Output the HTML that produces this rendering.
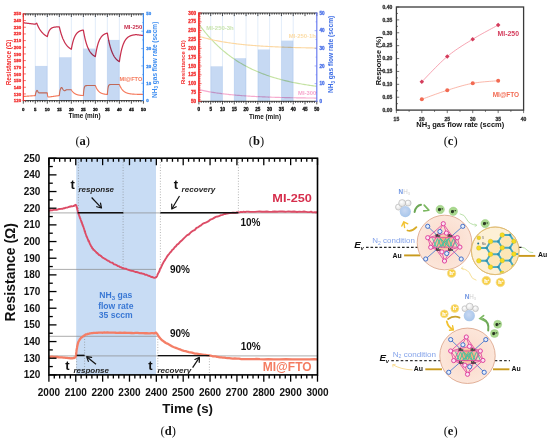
<!DOCTYPE html>
<html><head><meta charset="utf-8"><title>Figure</title>
<style>html,body{margin:0;padding:0;background:#fff;}svg{display:block;}</style></head>
<body><svg width="550" height="442" viewBox="0 0 550 442">
<rect width="550" height="442" fill="#fff"/>
<line x1="35.31" y1="13.9" x2="35.31" y2="100.6" stroke="#d6e4f6" stroke-width="0.7" />
<line x1="47.32" y1="13.9" x2="47.32" y2="100.6" stroke="#d6e4f6" stroke-width="0.7" />
<line x1="59.33" y1="13.9" x2="59.33" y2="100.6" stroke="#d6e4f6" stroke-width="0.7" />
<line x1="71.34" y1="13.9" x2="71.34" y2="100.6" stroke="#d6e4f6" stroke-width="0.7" />
<line x1="83.35" y1="13.9" x2="83.35" y2="100.6" stroke="#d6e4f6" stroke-width="0.7" />
<line x1="95.36" y1="13.9" x2="95.36" y2="100.6" stroke="#d6e4f6" stroke-width="0.7" />
<line x1="107.37" y1="13.9" x2="107.37" y2="100.6" stroke="#d6e4f6" stroke-width="0.7" />
<line x1="119.38" y1="13.9" x2="119.38" y2="100.6" stroke="#d6e4f6" stroke-width="0.7" />
<path d="M23.3 22.77 L23.42 22.78 L23.54 22.8 L23.66 22.81 L23.78 22.83 L23.9 22.84 L24.02 22.86 L24.14 22.87 L24.26 22.89 L24.38 22.9 L24.5 22.92 L24.62 22.93 L24.74 22.95 L24.86 22.96 L24.98 22.98 L25.1 22.99 L25.22 23 L25.34 23.02 L25.46 23.03 L25.58 23.05 L25.7 23.06 L25.82 23.08 L25.94 23.09 L26.06 23.11 L26.18 23.12 L26.3 23.14 L26.42 23.15 L26.54 23.17 L26.66 23.18 L26.78 23.2 L26.9 23.21 L27.02 23.22 L27.14 23.24 L27.26 23.25 L27.38 23.27 L27.5 23.28 L27.62 23.3 L27.74 23.31 L27.86 23.33 L27.98 23.34 L28.1 23.36 L28.22 23.37 L28.34 23.39 L28.46 23.4 L28.58 23.42 L28.7 23.43 L28.82 23.45 L28.94 23.46 L29.06 23.47 L29.18 23.49 L29.3 23.5 L29.43 23.52 L29.55 23.53 L29.67 23.55 L29.79 23.56 L29.91 23.58 L30.03 23.59 L30.15 23.61 L30.27 23.62 L30.39 23.64 L30.51 23.65 L30.63 23.67 L30.75 23.68 L30.87 23.69 L30.99 23.71 L31.11 23.72 L31.23 23.74 L31.35 23.75 L31.47 23.77 L31.59 23.78 L31.71 23.8 L31.83 23.81 L31.95 23.83 L32.07 23.84 L32.19 23.86 L32.31 23.87 L32.43 23.89 L32.55 23.9 L32.67 23.91 L32.79 23.93 L32.91 23.94 L33.03 23.96 L33.15 23.97 L33.27 23.99 L33.39 24 L33.51 24.02 L33.63 24.03 L33.75 24.05 L33.87 24.06 L33.99 24.08 L34.11 24.09 L34.23 24.11 L34.35 24.12 L34.47 24.13 L34.59 24.15 L34.71 24.16 L34.83 24.18 L34.95 24.19 L35.07 24.21 L35.19 24.22 L35.31 24.24 L35.43 24.11 L35.55 23.98 L35.67 23.85 L35.79 23.74 L35.91 23.63 L36.03 23.53 L36.15 23.44 L36.27 23.37 L36.39 23.31 L36.51 23.27 L36.63 23.25 L36.75 23.24 L36.87 23.53 L36.99 23.83 L37.11 24.12 L37.23 24.4 L37.35 24.67 L37.47 24.95 L37.59 25.22 L37.71 25.48 L37.83 25.74 L37.95 25.99 L38.07 26.24 L38.19 26.48 L38.31 26.72 L38.43 26.96 L38.55 27.19 L38.67 27.42 L38.79 27.65 L38.91 27.86 L39.03 28.08 L39.15 28.29 L39.27 28.5 L39.39 28.71 L39.51 28.91 L39.63 29.11 L39.75 29.3 L39.87 29.49 L39.99 29.68 L40.11 29.86 L40.23 30.04 L40.35 30.22 L40.47 30.39 L40.59 30.57 L40.71 30.73 L40.83 30.9 L40.95 31.06 L41.07 31.22 L41.19 31.38 L41.31 31.53 L41.44 31.68 L41.56 31.83 L41.68 31.98 L41.8 32.12 L41.92 32.26 L42.04 32.4 L42.16 32.54 L42.28 32.67 L42.4 32.8 L42.52 32.93 L42.64 33.05 L42.76 33.18 L42.88 33.3 L43 33.42 L43.12 33.54 L43.24 33.65 L43.36 33.77 L43.48 33.88 L43.6 33.99 L43.72 34.1 L43.84 34.2 L43.96 34.31 L44.08 34.41 L44.2 34.51 L44.32 34.61 L44.44 34.7 L44.56 34.8 L44.68 34.89 L44.8 34.98 L44.92 35.07 L45.04 35.16 L45.16 35.25 L45.28 35.33 L45.4 35.42 L45.52 35.5 L45.64 35.58 L45.76 35.66 L45.88 35.74 L46 35.82 L46.12 35.89 L46.24 35.97 L46.36 36.04 L46.48 36.11 L46.6 36.18 L46.72 36.25 L46.84 36.32 L46.96 36.38 L47.08 36.45 L47.2 36.51 L47.32 36.58 L47.44 36.05 L47.56 35.55 L47.68 35.07 L47.8 34.63 L47.92 34.2 L48.04 33.8 L48.16 33.43 L48.28 33.07 L48.4 32.73 L48.52 32.41 L48.64 32.11 L48.76 31.82 L48.88 31.55 L49 31.29 L49.12 31.05 L49.24 30.82 L49.36 30.6 L49.48 30.4 L49.6 30.2 L49.72 30.02 L49.84 29.84 L49.96 29.68 L50.08 29.52 L50.2 29.38 L50.32 29.24 L50.44 29.11 L50.56 28.98 L50.68 28.86 L50.8 28.75 L50.92 28.65 L51.04 28.55 L51.16 28.45 L51.28 28.36 L51.4 28.28 L51.52 28.2 L51.64 28.12 L51.76 28.05 L51.88 27.98 L52 27.92 L52.12 27.86 L52.24 27.8 L52.36 27.75 L52.48 27.7 L52.6 27.65 L52.72 27.6 L52.84 27.56 L52.96 27.52 L53.08 27.48 L53.2 27.44 L53.33 27.41 L53.45 27.38 L53.57 27.34 L53.69 27.31 L53.81 27.29 L53.93 27.26 L54.05 27.24 L54.17 27.21 L54.29 27.19 L54.41 27.17 L54.53 27.15 L54.65 27.13 L54.77 27.11 L54.89 27.1 L55.01 27.08 L55.13 27.06 L55.25 27.05 L55.37 27.04 L55.49 27.02 L55.61 27.01 L55.73 27 L55.85 26.99 L55.97 26.98 L56.09 26.97 L56.21 26.96 L56.33 26.95 L56.45 26.94 L56.57 26.94 L56.69 26.93 L56.81 26.92 L56.93 26.92 L57.05 26.91 L57.17 26.9 L57.29 26.9 L57.41 26.89 L57.53 26.89 L57.65 26.88 L57.77 26.88 L57.89 26.87 L58.01 26.87 L58.13 26.87 L58.25 26.86 L58.37 26.86 L58.49 26.86 L58.61 26.85 L58.73 26.85 L58.85 26.85 L58.97 26.85 L59.09 26.84 L59.21 26.84 L59.33 26.84 L59.45 27.37 L59.57 27.88 L59.69 28.39 L59.81 28.88 L59.93 29.37 L60.05 29.85 L60.17 30.31 L60.29 30.77 L60.41 31.21 L60.53 31.65 L60.65 32.08 L60.77 32.5 L60.89 32.91 L61.01 33.31 L61.13 33.71 L61.25 34.09 L61.37 34.47 L61.49 34.84 L61.61 35.21 L61.73 35.56 L61.85 35.91 L61.97 36.25 L62.09 36.58 L62.21 36.91 L62.33 37.23 L62.45 37.54 L62.57 37.85 L62.69 38.15 L62.81 38.45 L62.93 38.73 L63.05 39.02 L63.17 39.29 L63.29 39.56 L63.41 39.83 L63.53 40.09 L63.65 40.34 L63.77 40.59 L63.89 40.84 L64.01 41.08 L64.13 41.31 L64.25 41.54 L64.37 41.76 L64.49 41.98 L64.61 42.2 L64.73 42.41 L64.85 42.62 L64.97 42.82 L65.09 43.02 L65.21 43.21 L65.33 43.4 L65.46 43.59 L65.58 43.77 L65.7 43.95 L65.82 44.12 L65.94 44.3 L66.06 44.46 L66.18 44.63 L66.3 44.79 L66.42 44.95 L66.54 45.1 L66.66 45.25 L66.78 45.4 L66.9 45.54 L67.02 45.69 L67.14 45.83 L67.26 45.96 L67.38 46.1 L67.5 46.23 L67.62 46.35 L67.74 46.48 L67.86 46.6 L67.98 46.72 L68.1 46.84 L68.22 46.96 L68.34 47.07 L68.46 47.18 L68.58 47.29 L68.7 47.39 L68.82 47.5 L68.94 47.6 L69.06 47.7 L69.18 47.8 L69.3 47.89 L69.42 47.99 L69.54 48.08 L69.66 48.17 L69.78 48.26 L69.9 48.34 L70.02 48.43 L70.14 48.51 L70.26 48.59 L70.38 48.67 L70.5 48.75 L70.62 48.82 L70.74 48.9 L70.86 48.97 L70.98 49.04 L71.1 49.11 L71.22 49.18 L71.34 49.25 L71.46 48.55 L71.58 47.88 L71.7 47.24 L71.82 46.62 L71.94 46.01 L72.06 45.43 L72.18 44.88 L72.3 44.34 L72.42 43.81 L72.54 43.31 L72.66 42.83 L72.78 42.36 L72.9 41.91 L73.02 41.47 L73.14 41.05 L73.26 40.64 L73.38 40.25 L73.5 39.88 L73.62 39.51 L73.74 39.16 L73.86 38.82 L73.98 38.49 L74.1 38.18 L74.22 37.87 L74.34 37.58 L74.46 37.29 L74.58 37.02 L74.7 36.75 L74.82 36.5 L74.94 36.25 L75.06 36.02 L75.18 35.79 L75.3 35.57 L75.42 35.35 L75.54 35.15 L75.66 34.95 L75.78 34.76 L75.9 34.57 L76.02 34.39 L76.14 34.22 L76.26 34.05 L76.38 33.89 L76.5 33.74 L76.62 33.59 L76.74 33.45 L76.86 33.31 L76.98 33.17 L77.1 33.04 L77.22 32.92 L77.34 32.8 L77.47 32.68 L77.59 32.57 L77.71 32.46 L77.83 32.36 L77.95 32.26 L78.07 32.16 L78.19 32.06 L78.31 31.97 L78.43 31.89 L78.55 31.8 L78.67 31.72 L78.79 31.64 L78.91 31.57 L79.03 31.49 L79.15 31.42 L79.27 31.36 L79.39 31.29 L79.51 31.23 L79.63 31.17 L79.75 31.11 L79.87 31.05 L79.99 30.99 L80.11 30.94 L80.23 30.89 L80.35 30.84 L80.47 30.79 L80.59 30.75 L80.71 30.7 L80.83 30.66 L80.95 30.62 L81.07 30.58 L81.19 30.54 L81.31 30.5 L81.43 30.47 L81.55 30.43 L81.67 30.4 L81.79 30.37 L81.91 30.34 L82.03 30.31 L82.15 30.28 L82.27 30.25 L82.39 30.22 L82.51 30.2 L82.63 30.17 L82.75 30.15 L82.87 30.12 L82.99 30.1 L83.11 30.08 L83.23 30.06 L83.35 30.04 L83.47 30.75 L83.59 31.45 L83.71 32.13 L83.83 32.79 L83.95 33.44 L84.07 34.07 L84.19 34.68 L84.31 35.28 L84.43 35.87 L84.55 36.44 L84.67 36.99 L84.79 37.53 L84.91 38.06 L85.03 38.58 L85.15 39.08 L85.27 39.57 L85.39 40.05 L85.51 40.52 L85.63 40.97 L85.75 41.42 L85.87 41.85 L85.99 42.27 L86.11 42.68 L86.23 43.09 L86.35 43.48 L86.47 43.86 L86.59 44.23 L86.71 44.6 L86.83 44.95 L86.95 45.3 L87.07 45.63 L87.19 45.96 L87.31 46.28 L87.43 46.6 L87.55 46.9 L87.67 47.2 L87.79 47.49 L87.91 47.77 L88.03 48.05 L88.15 48.32 L88.27 48.58 L88.39 48.84 L88.51 49.09 L88.63 49.33 L88.75 49.57 L88.87 49.8 L88.99 50.03 L89.11 50.25 L89.23 50.46 L89.36 50.67 L89.48 50.88 L89.6 51.08 L89.72 51.27 L89.84 51.46 L89.96 51.65 L90.08 51.83 L90.2 52 L90.32 52.17 L90.44 52.34 L90.56 52.5 L90.68 52.66 L90.8 52.82 L90.92 52.97 L91.04 53.12 L91.16 53.26 L91.28 53.4 L91.4 53.54 L91.52 53.67 L91.64 53.8 L91.76 53.93 L91.88 54.06 L92 54.18 L92.12 54.29 L92.24 54.41 L92.36 54.52 L92.48 54.63 L92.6 54.74 L92.72 54.84 L92.84 54.94 L92.96 55.04 L93.08 55.14 L93.2 55.23 L93.32 55.33 L93.44 55.42 L93.56 55.5 L93.68 55.59 L93.8 55.67 L93.92 55.75 L94.04 55.83 L94.16 55.91 L94.28 55.98 L94.4 56.06 L94.52 56.13 L94.64 56.2 L94.76 56.27 L94.88 56.33 L95 56.4 L95.12 56.46 L95.24 56.52 L95.36 56.58 L95.48 55.78 L95.6 55.01 L95.72 54.27 L95.84 53.54 L95.96 52.85 L96.08 52.17 L96.2 51.52 L96.32 50.88 L96.44 50.27 L96.56 49.68 L96.68 49.11 L96.8 48.56 L96.92 48.02 L97.04 47.5 L97.16 47 L97.28 46.52 L97.4 46.05 L97.52 45.6 L97.64 45.16 L97.76 44.74 L97.88 44.33 L98 43.93 L98.12 43.55 L98.24 43.18 L98.36 42.82 L98.48 42.47 L98.6 42.14 L98.72 41.81 L98.84 41.5 L98.96 41.19 L99.08 40.9 L99.2 40.62 L99.32 40.34 L99.44 40.08 L99.56 39.82 L99.68 39.57 L99.8 39.33 L99.92 39.1 L100.04 38.87 L100.16 38.66 L100.28 38.45 L100.4 38.24 L100.52 38.05 L100.64 37.85 L100.76 37.67 L100.88 37.49 L101 37.32 L101.12 37.15 L101.24 36.99 L101.37 36.84 L101.49 36.69 L101.61 36.54 L101.73 36.4 L101.85 36.26 L101.97 36.13 L102.09 36 L102.21 35.88 L102.33 35.76 L102.45 35.65 L102.57 35.53 L102.69 35.43 L102.81 35.32 L102.93 35.22 L103.05 35.12 L103.17 35.03 L103.29 34.94 L103.41 34.85 L103.53 34.76 L103.65 34.68 L103.77 34.6 L103.89 34.52 L104.01 34.45 L104.13 34.37 L104.25 34.3 L104.37 34.24 L104.49 34.17 L104.61 34.11 L104.73 34.05 L104.85 33.99 L104.97 33.93 L105.09 33.87 L105.21 33.82 L105.33 33.77 L105.45 33.72 L105.57 33.67 L105.69 33.62 L105.81 33.58 L105.93 33.53 L106.05 33.49 L106.17 33.45 L106.29 33.41 L106.41 33.37 L106.53 33.34 L106.65 33.3 L106.77 33.26 L106.89 33.23 L107.01 33.2 L107.13 33.17 L107.25 33.14 L107.37 33.11 L107.49 33.85 L107.61 34.57 L107.73 35.28 L107.85 35.96 L107.97 36.64 L108.09 37.29 L108.21 37.94 L108.33 38.56 L108.45 39.17 L108.57 39.77 L108.69 40.35 L108.81 40.92 L108.93 41.48 L109.05 42.02 L109.17 42.55 L109.29 43.07 L109.41 43.58 L109.53 44.07 L109.65 44.55 L109.77 45.02 L109.89 45.48 L110.01 45.93 L110.13 46.37 L110.25 46.8 L110.37 47.22 L110.49 47.62 L110.61 48.02 L110.73 48.41 L110.85 48.79 L110.97 49.16 L111.09 49.52 L111.21 49.88 L111.33 50.22 L111.45 50.56 L111.57 50.89 L111.69 51.21 L111.81 51.53 L111.93 51.83 L112.05 52.13 L112.17 52.42 L112.29 52.71 L112.41 52.99 L112.53 53.26 L112.65 53.53 L112.77 53.79 L112.89 54.04 L113.01 54.29 L113.13 54.53 L113.25 54.77 L113.38 55 L113.5 55.22 L113.62 55.44 L113.74 55.66 L113.86 55.86 L113.98 56.07 L114.1 56.27 L114.22 56.46 L114.34 56.65 L114.46 56.84 L114.58 57.02 L114.7 57.2 L114.82 57.37 L114.94 57.54 L115.06 57.71 L115.18 57.87 L115.3 58.03 L115.42 58.18 L115.54 58.33 L115.66 58.48 L115.78 58.62 L115.9 58.76 L116.02 58.9 L116.14 59.03 L116.26 59.16 L116.38 59.29 L116.5 59.41 L116.62 59.53 L116.74 59.65 L116.86 59.77 L116.98 59.88 L117.1 59.99 L117.22 60.1 L117.34 60.2 L117.46 60.3 L117.58 60.4 L117.7 60.5 L117.82 60.6 L117.94 60.69 L118.06 60.78 L118.18 60.87 L118.3 60.96 L118.42 61.04 L118.54 61.12 L118.66 61.21 L118.78 61.28 L118.9 61.36 L119.02 61.44 L119.14 61.51 L119.26 61.58 L119.38 61.65 L119.5 60.81 L119.62 59.99 L119.74 59.2 L119.86 58.44 L119.98 57.69 L120.1 56.97 L120.22 56.28 L120.34 55.6 L120.46 54.95 L120.58 54.31 L120.7 53.69 L120.82 53.1 L120.94 52.52 L121.06 51.96 L121.18 51.42 L121.3 50.89 L121.42 50.38 L121.54 49.88 L121.66 49.4 L121.78 48.94 L121.9 48.49 L122.02 48.05 L122.14 47.63 L122.26 47.22 L122.38 46.82 L122.5 46.44 L122.62 46.06 L122.74 45.7 L122.86 45.35 L122.98 45.01 L123.1 44.68 L123.22 44.36 L123.34 44.05 L123.46 43.75 L123.58 43.46 L123.7 43.18 L123.82 42.9 L123.94 42.64 L124.06 42.38 L124.18 42.13 L124.3 41.89 L124.42 41.66 L124.54 41.43 L124.66 41.21 L124.78 41 L124.9 40.79 L125.02 40.59 L125.14 40.4 L125.26 40.21 L125.38 40.03 L125.51 39.85 L125.63 39.68 L125.75 39.52 L125.87 39.36 L125.99 39.2 L126.11 39.05 L126.23 38.9 L126.35 38.76 L126.47 38.63 L126.59 38.49 L126.71 38.36 L126.83 38.24 L126.95 38.12 L127.07 38 L127.19 37.89 L127.31 37.77 L127.43 37.67 L127.55 37.56 L127.67 37.46 L127.79 37.37 L127.91 37.27 L128.03 37.18 L128.15 37.09 L128.27 37.01 L128.39 36.92 L128.51 36.84 L128.63 36.76 L128.75 36.69 L128.87 36.61 L128.99 36.54 L129.11 36.47 L129.23 36.41 L129.35 36.34 L129.47 36.28 L129.59 36.22 L129.71 36.16 L129.83 36.1 L129.95 36.05 L130.07 35.99 L130.19 35.94 L130.31 35.89 L130.43 35.84 L130.55 35.79 L130.67 35.75 L130.79 35.7 L130.91 35.66 L131.03 35.62 L131.15 35.58 L131.27 35.54 L131.39 35.5 L131.51 35.46 L131.63 35.43 L131.75 35.39 L131.87 35.36 L131.99 35.32 L132.11 35.29 L132.23 35.26 L132.35 35.23 L132.47 35.2 L132.59 35.18 L132.71 35.15 L132.83 35.12 L132.95 35.1 L133.07 35.07 L133.19 35.05 L133.31 35.03 L133.43 35 L133.55 34.98 L133.67 34.96 L133.79 34.94 L133.91 34.92 L134.03 34.9 L134.15 34.88 L134.27 34.86 L134.39 34.85 L134.51 34.83 L134.63 34.81 L134.75 34.8 L134.87 34.78 L134.99 34.77 L135.11 34.75 L135.23 34.74 L135.35 34.73 L135.47 34.71 L135.59 34.7 L135.71 34.69 L135.83 34.68 L135.95 34.66 L136.07 34.65 L136.19 34.64 L136.31 34.66 L136.43 34.67 L136.55 34.68 L136.67 34.7 L136.79 34.71 L136.91 34.73 L137.03 34.74 L137.15 34.76 L137.27 34.77 L137.4 34.79 L137.52 34.8 L137.64 34.81 L137.76 34.83 L137.88 34.84 L138 34.86 L138.12 34.87 L138.24 34.89 L138.36 34.9 L138.48 34.92 L138.6 34.93 L138.72 34.94 L138.84 34.96 L138.96 34.97 L139.08 34.99 L139.2 35 L139.32 35.02 L139.44 35.03 L139.56 35.05 L139.68 35.06 L139.8 35.07 L139.92 35.09 L140.04 35.1 L140.16 35.12 L140.28 35.13 L140.4 35.15 L140.52 35.16 L140.64 35.18 L140.76 35.19 L140.88 35.2 L141 35.22 L141.12 35.23 L141.24 35.25 L141.36 35.26 L141.48 35.28 L141.6 35.29 L141.72 35.31 L141.84 35.32 L141.96 35.33 L142.08 35.35 L142.2 35.36 L142.32 35.38 L142.44 35.39 L142.56 35.41 L142.68 35.42 L142.8 35.44 L142.92 35.45 L143.04 35.46 L143.16 35.48 L143.28 35.49 L143.4 35.51" stroke="#c8304e" stroke-width="1.25" fill="none" stroke-linejoin="round"/>
<path d="M23.3 96.47 L23.42 96.46 L23.54 96.45 L23.66 96.44 L23.78 96.43 L23.9 96.42 L24.02 96.41 L24.14 96.4 L24.26 96.4 L24.38 96.39 L24.5 96.38 L24.62 96.37 L24.74 96.36 L24.86 96.35 L24.98 96.34 L25.1 96.34 L25.22 96.33 L25.34 96.32 L25.46 96.31 L25.58 96.3 L25.7 96.29 L25.82 96.28 L25.94 96.27 L26.06 96.27 L26.18 96.26 L26.3 96.25 L26.42 96.24 L26.54 96.23 L26.66 96.22 L26.78 96.21 L26.9 96.2 L27.02 96.2 L27.14 96.19 L27.26 96.18 L27.38 96.17 L27.5 96.16 L27.62 96.15 L27.74 96.14 L27.86 96.14 L27.98 96.13 L28.1 96.12 L28.22 96.11 L28.34 96.1 L28.46 96.09 L28.58 96.08 L28.7 96.07 L28.82 96.07 L28.94 96.06 L29.06 96.05 L29.18 96.04 L29.3 96.03 L29.43 96.02 L29.55 96.01 L29.67 96.01 L29.79 96 L29.91 95.99 L30.03 95.98 L30.15 95.97 L30.27 95.96 L30.39 95.95 L30.51 95.94 L30.63 95.94 L30.75 95.93 L30.87 95.92 L30.99 95.91 L31.11 95.9 L31.23 95.89 L31.35 95.88 L31.47 95.88 L31.59 95.87 L31.71 95.86 L31.83 95.85 L31.95 95.84 L32.07 95.83 L32.19 95.82 L32.31 95.81 L32.43 95.81 L32.55 95.8 L32.67 95.79 L32.79 95.78 L32.91 95.77 L33.03 95.76 L33.15 95.75 L33.27 95.75 L33.39 95.74 L33.51 95.73 L33.63 95.72 L33.75 95.71 L33.87 95.7 L33.99 95.69 L34.11 95.68 L34.23 95.68 L34.35 95.67 L34.47 95.66 L34.59 95.65 L34.71 95.64 L34.83 95.63 L34.95 95.62 L35.07 95.62 L35.19 95.61 L35.31 95.6 L35.43 94.53 L35.55 93.87 L35.67 93.34 L35.79 92.9 L35.91 92.5 L36.03 92.14 L36.15 91.81 L36.27 91.49 L36.39 91.2 L36.51 90.95 L36.63 90.73 L36.75 90.57 L36.87 90.46 L36.99 90.42 L37.11 90.45 L37.23 90.53 L37.35 90.67 L37.47 90.86 L37.59 91.07 L37.71 91.31 L37.83 91.55 L37.95 91.78 L38.07 92 L38.19 92.19 L38.31 92.36 L38.43 92.5 L38.55 92.62 L38.67 92.71 L38.79 92.77 L38.91 92.82 L39.03 92.86 L39.15 92.88 L39.27 92.9 L39.39 92.91 L39.51 92.92 L39.63 92.92 L39.75 92.93 L39.87 92.93 L39.99 92.93 L40.11 92.93 L40.23 92.93 L40.35 92.93 L40.47 92.93 L40.59 92.93 L40.71 92.93 L40.83 92.93 L40.95 92.93 L41.07 92.93 L41.19 92.93 L41.31 92.93 L41.44 92.93 L41.56 92.93 L41.68 92.93 L41.8 92.93 L41.92 92.93 L42.04 92.93 L42.16 92.93 L42.28 92.93 L42.4 92.93 L42.52 92.93 L42.64 92.93 L42.76 92.93 L42.88 92.93 L43 92.93 L43.12 92.93 L43.24 92.93 L43.36 92.93 L43.48 92.93 L43.6 92.93 L43.72 92.93 L43.84 92.93 L43.96 92.93 L44.08 92.93 L44.2 92.93 L44.32 92.93 L44.44 92.93 L44.56 92.93 L44.68 92.93 L44.8 92.93 L44.92 92.93 L45.04 92.93 L45.16 92.93 L45.28 92.93 L45.4 92.93 L45.52 92.93 L45.64 92.93 L45.76 92.93 L45.88 92.93 L46 92.93 L46.12 92.93 L46.24 92.93 L46.36 92.93 L46.48 92.93 L46.6 92.93 L46.72 92.93 L46.84 92.93 L46.96 92.93 L47.08 92.93 L47.2 92.93 L47.32 92.93 L47.44 94.39 L47.56 95.35 L47.68 95.97 L47.8 96.38 L47.92 96.64 L48.04 96.81 L48.16 96.91 L48.28 96.97 L48.4 97.01 L48.52 97.02 L48.64 97.03 L48.76 97.03 L48.88 97.02 L49 97.01 L49.12 97 L49.24 96.98 L49.36 96.97 L49.48 96.95 L49.6 96.93 L49.72 96.92 L49.84 96.9 L49.96 96.88 L50.08 96.87 L50.2 96.85 L50.32 96.83 L50.44 96.81 L50.56 96.8 L50.68 96.78 L50.8 96.76 L50.92 96.75 L51.04 96.73 L51.16 96.71 L51.28 96.69 L51.4 96.68 L51.52 96.66 L51.64 96.64 L51.76 96.62 L51.88 96.61 L52 96.59 L52.12 96.57 L52.24 96.55 L52.36 96.54 L52.48 96.52 L52.6 96.5 L52.72 96.49 L52.84 96.47 L52.96 96.45 L53.08 96.43 L53.2 96.42 L53.33 96.4 L53.45 96.38 L53.57 96.36 L53.69 96.35 L53.81 96.33 L53.93 96.31 L54.05 96.29 L54.17 96.28 L54.29 96.26 L54.41 96.24 L54.53 96.22 L54.65 96.21 L54.77 96.19 L54.89 96.17 L55.01 96.16 L55.13 96.14 L55.25 96.12 L55.37 96.1 L55.49 96.09 L55.61 96.07 L55.73 96.05 L55.85 96.03 L55.97 96.02 L56.09 96 L56.21 95.98 L56.33 95.96 L56.45 95.95 L56.57 95.93 L56.69 95.91 L56.81 95.9 L56.93 95.88 L57.05 95.86 L57.17 95.84 L57.29 95.83 L57.41 95.81 L57.53 95.79 L57.65 95.77 L57.77 95.76 L57.89 95.74 L58.01 95.72 L58.13 95.7 L58.25 95.69 L58.37 95.67 L58.49 95.65 L58.61 95.64 L58.73 95.62 L58.85 95.6 L58.97 95.58 L59.09 95.57 L59.21 95.55 L59.33 95.53 L59.45 94.17 L59.57 93.11 L59.69 92.26 L59.81 91.56 L59.93 90.98 L60.05 90.49 L60.17 90.05 L60.29 89.66 L60.41 89.31 L60.53 88.98 L60.65 88.67 L60.77 88.39 L60.89 88.14 L61.01 87.92 L61.13 87.73 L61.25 87.59 L61.37 87.5 L61.49 87.46 L61.61 87.47 L61.73 87.53 L61.85 87.63 L61.97 87.77 L62.09 87.94 L62.21 88.13 L62.33 88.34 L62.45 88.55 L62.57 88.75 L62.69 88.95 L62.81 89.14 L62.93 89.32 L63.05 89.49 L63.17 89.64 L63.29 89.78 L63.41 89.92 L63.53 90.05 L63.65 90.17 L63.77 90.28 L63.89 90.38 L64.01 90.48 L64.13 90.56 L64.25 90.63 L64.37 90.68 L64.49 90.72 L64.61 90.73 L64.73 90.72 L64.85 90.69 L64.97 90.64 L65.09 90.58 L65.21 90.51 L65.33 90.43 L65.46 90.34 L65.58 90.26 L65.7 90.17 L65.82 90.1 L65.94 90.03 L66.06 89.97 L66.18 89.91 L66.3 89.87 L66.42 89.83 L66.54 89.81 L66.66 89.78 L66.78 89.77 L66.9 89.76 L67.02 89.75 L67.14 89.74 L67.26 89.74 L67.38 89.73 L67.5 89.73 L67.62 89.73 L67.74 89.73 L67.86 89.73 L67.98 89.73 L68.1 89.73 L68.22 89.73 L68.34 89.73 L68.46 89.73 L68.58 89.73 L68.7 89.73 L68.82 89.73 L68.94 89.73 L69.06 89.73 L69.18 89.73 L69.3 89.73 L69.42 89.73 L69.54 89.73 L69.66 89.73 L69.78 89.73 L69.9 89.73 L70.02 89.73 L70.14 89.73 L70.26 89.73 L70.38 89.73 L70.5 89.73 L70.62 89.73 L70.74 89.73 L70.86 89.73 L70.98 89.73 L71.1 89.73 L71.22 89.73 L71.34 89.73 L71.46 89.94 L71.58 90.14 L71.7 90.34 L71.82 90.53 L71.94 90.71 L72.06 90.89 L72.18 91.06 L72.3 91.22 L72.42 91.38 L72.54 91.53 L72.66 91.68 L72.78 91.82 L72.9 91.96 L73.02 92.09 L73.14 92.22 L73.26 92.34 L73.38 92.46 L73.5 92.58 L73.62 92.69 L73.74 92.79 L73.86 92.9 L73.98 93 L74.1 93.09 L74.22 93.18 L74.34 93.27 L74.46 93.36 L74.58 93.44 L74.7 93.52 L74.82 93.6 L74.94 93.68 L75.06 93.75 L75.18 93.82 L75.3 93.88 L75.42 93.95 L75.54 94.01 L75.66 94.07 L75.78 94.13 L75.9 94.19 L76.02 94.24 L76.14 94.29 L76.26 94.34 L76.38 94.39 L76.5 94.44 L76.62 94.48 L76.74 94.53 L76.86 94.57 L76.98 94.61 L77.1 94.65 L77.22 94.69 L77.34 94.73 L77.47 94.76 L77.59 94.79 L77.71 94.83 L77.83 94.86 L77.95 94.89 L78.07 94.92 L78.19 94.95 L78.31 94.98 L78.43 95 L78.55 95.03 L78.67 95.05 L78.79 95.08 L78.91 95.1 L79.03 95.12 L79.15 95.14 L79.27 95.16 L79.39 95.18 L79.51 95.2 L79.63 95.22 L79.75 95.24 L79.87 95.26 L79.99 95.27 L80.11 95.29 L80.23 95.3 L80.35 95.32 L80.47 95.33 L80.59 95.35 L80.71 95.36 L80.83 95.37 L80.95 95.39 L81.07 95.4 L81.19 95.41 L81.31 95.42 L81.43 95.43 L81.55 95.44 L81.67 95.45 L81.79 95.46 L81.91 95.47 L82.03 95.48 L82.15 95.49 L82.27 95.5 L82.39 95.51 L82.51 95.51 L82.63 95.52 L82.75 95.53 L82.87 95.54 L82.99 95.54 L83.11 95.55 L83.23 95.56 L83.35 95.56 L83.47 93.77 L83.59 92.28 L83.71 91.05 L83.83 90.05 L83.95 89.23 L84.07 88.56 L84.19 88.01 L84.31 87.56 L84.43 87.19 L84.55 86.89 L84.67 86.64 L84.79 86.44 L84.91 86.28 L85.03 86.14 L85.15 86.03 L85.27 85.94 L85.39 85.86 L85.51 85.8 L85.63 85.75 L85.75 85.71 L85.87 85.68 L85.99 85.65 L86.11 85.63 L86.23 85.61 L86.35 85.6 L86.47 85.58 L86.59 85.57 L86.71 85.56 L86.83 85.56 L86.95 85.55 L87.07 85.55 L87.19 85.54 L87.31 85.54 L87.43 85.54 L87.55 85.54 L87.67 85.54 L87.79 85.53 L87.91 85.53 L88.03 85.53 L88.15 85.53 L88.27 85.53 L88.39 85.53 L88.51 85.53 L88.63 85.53 L88.75 85.53 L88.87 85.53 L88.99 85.53 L89.11 85.53 L89.23 85.53 L89.36 85.53 L89.48 85.53 L89.6 85.53 L89.72 85.53 L89.84 85.53 L89.96 85.53 L90.08 85.53 L90.2 85.53 L90.32 85.53 L90.44 85.53 L90.56 85.53 L90.68 85.53 L90.8 85.53 L90.92 85.53 L91.04 85.53 L91.16 85.53 L91.28 85.53 L91.4 85.53 L91.52 85.53 L91.64 85.53 L91.76 85.53 L91.88 85.53 L92 85.53 L92.12 85.53 L92.24 85.53 L92.36 85.53 L92.48 85.53 L92.6 85.53 L92.72 85.53 L92.84 85.53 L92.96 85.53 L93.08 85.53 L93.2 85.53 L93.32 85.53 L93.44 85.53 L93.56 85.53 L93.68 85.53 L93.8 85.53 L93.92 85.53 L94.04 85.53 L94.16 85.53 L94.28 85.53 L94.4 85.53 L94.52 85.53 L94.64 85.53 L94.76 85.53 L94.88 85.53 L95 85.53 L95.12 85.53 L95.24 85.53 L95.36 85.53 L95.48 85.85 L95.6 86.16 L95.72 86.46 L95.84 86.75 L95.96 87.03 L96.08 87.3 L96.2 87.56 L96.32 87.81 L96.44 88.06 L96.56 88.29 L96.68 88.52 L96.8 88.74 L96.92 88.95 L97.04 89.15 L97.16 89.34 L97.28 89.53 L97.4 89.72 L97.52 89.89 L97.64 90.06 L97.76 90.23 L97.88 90.38 L98 90.54 L98.12 90.68 L98.24 90.83 L98.36 90.96 L98.48 91.09 L98.6 91.22 L98.72 91.35 L98.84 91.46 L98.96 91.58 L99.08 91.69 L99.2 91.8 L99.32 91.9 L99.44 92 L99.56 92.09 L99.68 92.19 L99.8 92.28 L99.92 92.36 L100.04 92.45 L100.16 92.53 L100.28 92.6 L100.4 92.68 L100.52 92.75 L100.64 92.82 L100.76 92.89 L100.88 92.95 L101 93.01 L101.12 93.07 L101.24 93.13 L101.37 93.19 L101.49 93.24 L101.61 93.29 L101.73 93.34 L101.85 93.39 L101.97 93.44 L102.09 93.49 L102.21 93.53 L102.33 93.57 L102.45 93.61 L102.57 93.65 L102.69 93.69 L102.81 93.73 L102.93 93.76 L103.05 93.8 L103.17 93.83 L103.29 93.86 L103.41 93.89 L103.53 93.92 L103.65 93.95 L103.77 93.98 L103.89 94 L104.01 94.03 L104.13 94.05 L104.25 94.08 L104.37 94.1 L104.49 94.12 L104.61 94.14 L104.73 94.16 L104.85 94.18 L104.97 94.2 L105.09 94.22 L105.21 94.24 L105.33 94.26 L105.45 94.27 L105.57 94.29 L105.69 94.3 L105.81 94.32 L105.93 94.33 L106.05 94.35 L106.17 94.36 L106.29 94.37 L106.41 94.39 L106.53 94.4 L106.65 94.41 L106.77 94.42 L106.89 94.43 L107.01 94.44 L107.13 94.45 L107.25 94.46 L107.37 94.47 L107.49 92.76 L107.61 91.26 L107.73 90.02 L107.85 89.02 L107.97 88.19 L108.09 87.51 L108.21 86.96 L108.33 86.51 L108.45 86.14 L108.57 85.83 L108.69 85.58 L108.81 85.38 L108.93 85.21 L109.05 85.08 L109.17 84.97 L109.29 84.87 L109.41 84.8 L109.53 84.74 L109.65 84.69 L109.77 84.65 L109.89 84.61 L110.01 84.58 L110.13 84.56 L110.25 84.54 L110.37 84.53 L110.49 84.52 L110.61 84.51 L110.73 84.5 L110.85 84.49 L110.97 84.49 L111.09 84.48 L111.21 84.48 L111.33 84.47 L111.45 84.47 L111.57 84.47 L111.69 84.47 L111.81 84.47 L111.93 84.47 L112.05 84.46 L112.17 84.46 L112.29 84.46 L112.41 84.46 L112.53 84.46 L112.65 84.46 L112.77 84.46 L112.89 84.46 L113.01 84.46 L113.13 84.46 L113.25 84.46 L113.38 84.46 L113.5 84.46 L113.62 84.46 L113.74 84.46 L113.86 84.46 L113.98 84.46 L114.1 84.46 L114.22 84.46 L114.34 84.46 L114.46 84.46 L114.58 84.46 L114.7 84.46 L114.82 84.46 L114.94 84.46 L115.06 84.46 L115.18 84.46 L115.3 84.46 L115.42 84.46 L115.54 84.46 L115.66 84.46 L115.78 84.46 L115.9 84.46 L116.02 84.46 L116.14 84.46 L116.26 84.46 L116.38 84.46 L116.5 84.46 L116.62 84.46 L116.74 84.46 L116.86 84.46 L116.98 84.46 L117.1 84.46 L117.22 84.46 L117.34 84.46 L117.46 84.46 L117.58 84.46 L117.7 84.46 L117.82 84.46 L117.94 84.46 L118.06 84.46 L118.18 84.46 L118.3 84.46 L118.42 84.46 L118.54 84.46 L118.66 84.46 L118.78 84.46 L118.9 84.46 L119.02 84.46 L119.14 84.46 L119.26 84.46 L119.38 84.46 L119.5 84.77 L119.62 85.06 L119.74 85.35 L119.86 85.63 L119.98 85.9 L120.1 86.16 L120.22 86.41 L120.34 86.66 L120.46 86.9 L120.58 87.13 L120.7 87.35 L120.82 87.57 L120.94 87.78 L121.06 87.98 L121.18 88.18 L121.3 88.37 L121.42 88.56 L121.54 88.74 L121.66 88.91 L121.78 89.08 L121.9 89.24 L122.02 89.4 L122.14 89.55 L122.26 89.7 L122.38 89.85 L122.5 89.99 L122.62 90.12 L122.74 90.26 L122.86 90.38 L122.98 90.51 L123.1 90.63 L123.22 90.74 L123.34 90.85 L123.46 90.96 L123.58 91.07 L123.7 91.17 L123.82 91.27 L123.94 91.37 L124.06 91.46 L124.18 91.55 L124.3 91.64 L124.42 91.72 L124.54 91.81 L124.66 91.89 L124.78 91.96 L124.9 92.04 L125.02 92.11 L125.14 92.18 L125.26 92.25 L125.38 92.31 L125.51 92.38 L125.63 92.44 L125.75 92.5 L125.87 92.56 L125.99 92.62 L126.11 92.67 L126.23 92.72 L126.35 92.78 L126.47 92.83 L126.59 92.87 L126.71 92.92 L126.83 92.97 L126.95 93.01 L127.07 93.05 L127.19 93.09 L127.31 93.13 L127.43 93.17 L127.55 93.21 L127.67 93.25 L127.79 93.28 L127.91 93.32 L128.03 93.35 L128.15 93.38 L128.27 93.41 L128.39 93.44 L128.51 93.47 L128.63 93.5 L128.75 93.53 L128.87 93.56 L128.99 93.58 L129.11 93.61 L129.23 93.63 L129.35 93.65 L129.47 93.68 L129.59 93.7 L129.71 93.72 L129.83 93.74 L129.95 93.76 L130.07 93.78 L130.19 93.8 L130.31 93.82 L130.43 93.84 L130.55 93.85 L130.67 93.87 L130.79 93.89 L130.91 93.9 L131.03 93.92 L131.15 93.93 L131.27 93.95 L131.39 93.96 L131.51 93.97 L131.63 93.99 L131.75 94 L131.87 94.01 L131.99 94.02 L132.11 94.04 L132.23 94.05 L132.35 94.06 L132.47 94.07 L132.59 94.08 L132.71 94.09 L132.83 94.1 L132.95 94.11 L133.07 94.12 L133.19 94.12 L133.31 94.13 L133.43 94.14 L133.55 94.15 L133.67 94.16 L133.79 94.16 L133.91 94.17 L134.03 94.18 L134.15 94.18 L134.27 94.19 L134.39 94.2 L134.51 94.2 L134.63 94.21 L134.75 94.22 L134.87 94.22 L134.99 94.23 L135.11 94.23 L135.23 94.24 L135.35 94.24 L135.47 94.25 L135.59 94.25 L135.71 94.26 L135.83 94.26 L135.95 94.26 L136.07 94.27 L136.19 94.27 L136.31 94.28 L136.43 94.28 L136.55 94.28 L136.67 94.29 L136.79 94.29 L136.91 94.29 L137.03 94.3 L137.15 94.3 L137.27 94.3 L137.4 94.31 L137.52 94.31 L137.64 94.31 L137.76 94.31 L137.88 94.32 L138 94.32 L138.12 94.32 L138.24 94.32 L138.36 94.33 L138.48 94.33 L138.6 94.33 L138.72 94.33 L138.84 94.33 L138.96 94.34 L139.08 94.34 L139.2 94.34 L139.32 94.34 L139.44 94.34 L139.56 94.35 L139.68 94.35 L139.8 94.35 L139.92 94.35 L140.04 94.35 L140.16 94.35 L140.28 94.35 L140.4 94.36 L140.52 94.36 L140.64 94.36 L140.76 94.36 L140.88 94.36 L141 94.36 L141.12 94.36 L141.24 94.36 L141.36 94.36 L141.48 94.37 L141.6 94.37 L141.72 94.37 L141.84 94.37 L141.96 94.37 L142.08 94.37 L142.2 94.37 L142.32 94.37 L142.44 94.37 L142.56 94.37 L142.68 94.37 L142.8 94.38 L142.92 94.38 L143.04 94.38 L143.16 94.38 L143.28 94.38 L143.4 94.38" stroke="#f57a5c" stroke-width="1.15" fill="none" stroke-linejoin="round"/>
<rect x="35.31" y="65.92" width="12.01" height="34.68" fill="#c6d9f3" style="mix-blend-mode:multiply"/>
<rect x="59.33" y="57.25" width="12.01" height="43.35" fill="#c6d9f3" style="mix-blend-mode:multiply"/>
<rect x="83.35" y="48.58" width="12.01" height="52.02" fill="#c6d9f3" style="mix-blend-mode:multiply"/>
<rect x="107.37" y="39.91" width="12.01" height="60.69" fill="#c6d9f3" style="mix-blend-mode:multiply"/>
<line x1="22.8" y1="13.9" x2="143.9" y2="13.9" stroke="#222" stroke-width="0.9" />
<line x1="22.8" y1="100.6" x2="143.9" y2="100.6" stroke="#222" stroke-width="0.9" />
<line x1="23.3" y1="13.9" x2="23.3" y2="17" stroke="#111" stroke-width="0.75" />
<line x1="23.3" y1="100.6" x2="23.3" y2="103.7" stroke="#111" stroke-width="0.75" />
<line x1="25.7" y1="13.9" x2="25.7" y2="15.5" stroke="#111" stroke-width="0.75" />
<line x1="25.7" y1="100.6" x2="25.7" y2="102.2" stroke="#111" stroke-width="0.75" />
<line x1="28.1" y1="13.9" x2="28.1" y2="15.5" stroke="#111" stroke-width="0.75" />
<line x1="28.1" y1="100.6" x2="28.1" y2="102.2" stroke="#111" stroke-width="0.75" />
<line x1="30.51" y1="13.9" x2="30.51" y2="15.5" stroke="#111" stroke-width="0.75" />
<line x1="30.51" y1="100.6" x2="30.51" y2="102.2" stroke="#111" stroke-width="0.75" />
<line x1="32.91" y1="13.9" x2="32.91" y2="15.5" stroke="#111" stroke-width="0.75" />
<line x1="32.91" y1="100.6" x2="32.91" y2="102.2" stroke="#111" stroke-width="0.75" />
<line x1="35.31" y1="13.9" x2="35.31" y2="17" stroke="#111" stroke-width="0.75" />
<line x1="35.31" y1="100.6" x2="35.31" y2="103.7" stroke="#111" stroke-width="0.75" />
<line x1="37.71" y1="13.9" x2="37.71" y2="15.5" stroke="#111" stroke-width="0.75" />
<line x1="37.71" y1="100.6" x2="37.71" y2="102.2" stroke="#111" stroke-width="0.75" />
<line x1="40.11" y1="13.9" x2="40.11" y2="15.5" stroke="#111" stroke-width="0.75" />
<line x1="40.11" y1="100.6" x2="40.11" y2="102.2" stroke="#111" stroke-width="0.75" />
<line x1="42.52" y1="13.9" x2="42.52" y2="15.5" stroke="#111" stroke-width="0.75" />
<line x1="42.52" y1="100.6" x2="42.52" y2="102.2" stroke="#111" stroke-width="0.75" />
<line x1="44.92" y1="13.9" x2="44.92" y2="15.5" stroke="#111" stroke-width="0.75" />
<line x1="44.92" y1="100.6" x2="44.92" y2="102.2" stroke="#111" stroke-width="0.75" />
<line x1="47.32" y1="13.9" x2="47.32" y2="17" stroke="#111" stroke-width="0.75" />
<line x1="47.32" y1="100.6" x2="47.32" y2="103.7" stroke="#111" stroke-width="0.75" />
<line x1="49.72" y1="13.9" x2="49.72" y2="15.5" stroke="#111" stroke-width="0.75" />
<line x1="49.72" y1="100.6" x2="49.72" y2="102.2" stroke="#111" stroke-width="0.75" />
<line x1="52.12" y1="13.9" x2="52.12" y2="15.5" stroke="#111" stroke-width="0.75" />
<line x1="52.12" y1="100.6" x2="52.12" y2="102.2" stroke="#111" stroke-width="0.75" />
<line x1="54.53" y1="13.9" x2="54.53" y2="15.5" stroke="#111" stroke-width="0.75" />
<line x1="54.53" y1="100.6" x2="54.53" y2="102.2" stroke="#111" stroke-width="0.75" />
<line x1="56.93" y1="13.9" x2="56.93" y2="15.5" stroke="#111" stroke-width="0.75" />
<line x1="56.93" y1="100.6" x2="56.93" y2="102.2" stroke="#111" stroke-width="0.75" />
<line x1="59.33" y1="13.9" x2="59.33" y2="17" stroke="#111" stroke-width="0.75" />
<line x1="59.33" y1="100.6" x2="59.33" y2="103.7" stroke="#111" stroke-width="0.75" />
<line x1="61.73" y1="13.9" x2="61.73" y2="15.5" stroke="#111" stroke-width="0.75" />
<line x1="61.73" y1="100.6" x2="61.73" y2="102.2" stroke="#111" stroke-width="0.75" />
<line x1="64.13" y1="13.9" x2="64.13" y2="15.5" stroke="#111" stroke-width="0.75" />
<line x1="64.13" y1="100.6" x2="64.13" y2="102.2" stroke="#111" stroke-width="0.75" />
<line x1="66.54" y1="13.9" x2="66.54" y2="15.5" stroke="#111" stroke-width="0.75" />
<line x1="66.54" y1="100.6" x2="66.54" y2="102.2" stroke="#111" stroke-width="0.75" />
<line x1="68.94" y1="13.9" x2="68.94" y2="15.5" stroke="#111" stroke-width="0.75" />
<line x1="68.94" y1="100.6" x2="68.94" y2="102.2" stroke="#111" stroke-width="0.75" />
<line x1="71.34" y1="13.9" x2="71.34" y2="17" stroke="#111" stroke-width="0.75" />
<line x1="71.34" y1="100.6" x2="71.34" y2="103.7" stroke="#111" stroke-width="0.75" />
<line x1="73.74" y1="13.9" x2="73.74" y2="15.5" stroke="#111" stroke-width="0.75" />
<line x1="73.74" y1="100.6" x2="73.74" y2="102.2" stroke="#111" stroke-width="0.75" />
<line x1="76.14" y1="13.9" x2="76.14" y2="15.5" stroke="#111" stroke-width="0.75" />
<line x1="76.14" y1="100.6" x2="76.14" y2="102.2" stroke="#111" stroke-width="0.75" />
<line x1="78.55" y1="13.9" x2="78.55" y2="15.5" stroke="#111" stroke-width="0.75" />
<line x1="78.55" y1="100.6" x2="78.55" y2="102.2" stroke="#111" stroke-width="0.75" />
<line x1="80.95" y1="13.9" x2="80.95" y2="15.5" stroke="#111" stroke-width="0.75" />
<line x1="80.95" y1="100.6" x2="80.95" y2="102.2" stroke="#111" stroke-width="0.75" />
<line x1="83.35" y1="13.9" x2="83.35" y2="17" stroke="#111" stroke-width="0.75" />
<line x1="83.35" y1="100.6" x2="83.35" y2="103.7" stroke="#111" stroke-width="0.75" />
<line x1="85.75" y1="13.9" x2="85.75" y2="15.5" stroke="#111" stroke-width="0.75" />
<line x1="85.75" y1="100.6" x2="85.75" y2="102.2" stroke="#111" stroke-width="0.75" />
<line x1="88.15" y1="13.9" x2="88.15" y2="15.5" stroke="#111" stroke-width="0.75" />
<line x1="88.15" y1="100.6" x2="88.15" y2="102.2" stroke="#111" stroke-width="0.75" />
<line x1="90.56" y1="13.9" x2="90.56" y2="15.5" stroke="#111" stroke-width="0.75" />
<line x1="90.56" y1="100.6" x2="90.56" y2="102.2" stroke="#111" stroke-width="0.75" />
<line x1="92.96" y1="13.9" x2="92.96" y2="15.5" stroke="#111" stroke-width="0.75" />
<line x1="92.96" y1="100.6" x2="92.96" y2="102.2" stroke="#111" stroke-width="0.75" />
<line x1="95.36" y1="13.9" x2="95.36" y2="17" stroke="#111" stroke-width="0.75" />
<line x1="95.36" y1="100.6" x2="95.36" y2="103.7" stroke="#111" stroke-width="0.75" />
<line x1="97.76" y1="13.9" x2="97.76" y2="15.5" stroke="#111" stroke-width="0.75" />
<line x1="97.76" y1="100.6" x2="97.76" y2="102.2" stroke="#111" stroke-width="0.75" />
<line x1="100.16" y1="13.9" x2="100.16" y2="15.5" stroke="#111" stroke-width="0.75" />
<line x1="100.16" y1="100.6" x2="100.16" y2="102.2" stroke="#111" stroke-width="0.75" />
<line x1="102.57" y1="13.9" x2="102.57" y2="15.5" stroke="#111" stroke-width="0.75" />
<line x1="102.57" y1="100.6" x2="102.57" y2="102.2" stroke="#111" stroke-width="0.75" />
<line x1="104.97" y1="13.9" x2="104.97" y2="15.5" stroke="#111" stroke-width="0.75" />
<line x1="104.97" y1="100.6" x2="104.97" y2="102.2" stroke="#111" stroke-width="0.75" />
<line x1="107.37" y1="13.9" x2="107.37" y2="17" stroke="#111" stroke-width="0.75" />
<line x1="107.37" y1="100.6" x2="107.37" y2="103.7" stroke="#111" stroke-width="0.75" />
<line x1="109.77" y1="13.9" x2="109.77" y2="15.5" stroke="#111" stroke-width="0.75" />
<line x1="109.77" y1="100.6" x2="109.77" y2="102.2" stroke="#111" stroke-width="0.75" />
<line x1="112.17" y1="13.9" x2="112.17" y2="15.5" stroke="#111" stroke-width="0.75" />
<line x1="112.17" y1="100.6" x2="112.17" y2="102.2" stroke="#111" stroke-width="0.75" />
<line x1="114.58" y1="13.9" x2="114.58" y2="15.5" stroke="#111" stroke-width="0.75" />
<line x1="114.58" y1="100.6" x2="114.58" y2="102.2" stroke="#111" stroke-width="0.75" />
<line x1="116.98" y1="13.9" x2="116.98" y2="15.5" stroke="#111" stroke-width="0.75" />
<line x1="116.98" y1="100.6" x2="116.98" y2="102.2" stroke="#111" stroke-width="0.75" />
<line x1="119.38" y1="13.9" x2="119.38" y2="17" stroke="#111" stroke-width="0.75" />
<line x1="119.38" y1="100.6" x2="119.38" y2="103.7" stroke="#111" stroke-width="0.75" />
<line x1="121.78" y1="13.9" x2="121.78" y2="15.5" stroke="#111" stroke-width="0.75" />
<line x1="121.78" y1="100.6" x2="121.78" y2="102.2" stroke="#111" stroke-width="0.75" />
<line x1="124.18" y1="13.9" x2="124.18" y2="15.5" stroke="#111" stroke-width="0.75" />
<line x1="124.18" y1="100.6" x2="124.18" y2="102.2" stroke="#111" stroke-width="0.75" />
<line x1="126.59" y1="13.9" x2="126.59" y2="15.5" stroke="#111" stroke-width="0.75" />
<line x1="126.59" y1="100.6" x2="126.59" y2="102.2" stroke="#111" stroke-width="0.75" />
<line x1="128.99" y1="13.9" x2="128.99" y2="15.5" stroke="#111" stroke-width="0.75" />
<line x1="128.99" y1="100.6" x2="128.99" y2="102.2" stroke="#111" stroke-width="0.75" />
<line x1="131.39" y1="13.9" x2="131.39" y2="17" stroke="#111" stroke-width="0.75" />
<line x1="131.39" y1="100.6" x2="131.39" y2="103.7" stroke="#111" stroke-width="0.75" />
<line x1="133.79" y1="13.9" x2="133.79" y2="15.5" stroke="#111" stroke-width="0.75" />
<line x1="133.79" y1="100.6" x2="133.79" y2="102.2" stroke="#111" stroke-width="0.75" />
<line x1="136.19" y1="13.9" x2="136.19" y2="15.5" stroke="#111" stroke-width="0.75" />
<line x1="136.19" y1="100.6" x2="136.19" y2="102.2" stroke="#111" stroke-width="0.75" />
<line x1="138.6" y1="13.9" x2="138.6" y2="15.5" stroke="#111" stroke-width="0.75" />
<line x1="138.6" y1="100.6" x2="138.6" y2="102.2" stroke="#111" stroke-width="0.75" />
<line x1="141" y1="13.9" x2="141" y2="15.5" stroke="#111" stroke-width="0.75" />
<line x1="141" y1="100.6" x2="141" y2="102.2" stroke="#111" stroke-width="0.75" />
<line x1="143.4" y1="13.9" x2="143.4" y2="17" stroke="#111" stroke-width="0.75" />
<line x1="143.4" y1="100.6" x2="143.4" y2="103.7" stroke="#111" stroke-width="0.75" />
<line x1="23.3" y1="13.5" x2="23.3" y2="101" stroke="#f22e2e" stroke-width="1.2" />
<line x1="23.3" y1="100.6" x2="25.9" y2="100.6" stroke="#f22e2e" stroke-width="0.7" />
<line x1="23.3" y1="93.93" x2="25.9" y2="93.93" stroke="#f22e2e" stroke-width="0.7" />
<line x1="23.3" y1="87.26" x2="25.9" y2="87.26" stroke="#f22e2e" stroke-width="0.7" />
<line x1="23.3" y1="80.59" x2="25.9" y2="80.59" stroke="#f22e2e" stroke-width="0.7" />
<line x1="23.3" y1="73.92" x2="25.9" y2="73.92" stroke="#f22e2e" stroke-width="0.7" />
<line x1="23.3" y1="67.25" x2="25.9" y2="67.25" stroke="#f22e2e" stroke-width="0.7" />
<line x1="23.3" y1="60.58" x2="25.9" y2="60.58" stroke="#f22e2e" stroke-width="0.7" />
<line x1="23.3" y1="53.92" x2="25.9" y2="53.92" stroke="#f22e2e" stroke-width="0.7" />
<line x1="23.3" y1="47.25" x2="25.9" y2="47.25" stroke="#f22e2e" stroke-width="0.7" />
<line x1="23.3" y1="40.58" x2="25.9" y2="40.58" stroke="#f22e2e" stroke-width="0.7" />
<line x1="23.3" y1="33.91" x2="25.9" y2="33.91" stroke="#f22e2e" stroke-width="0.7" />
<line x1="23.3" y1="27.24" x2="25.9" y2="27.24" stroke="#f22e2e" stroke-width="0.7" />
<line x1="23.3" y1="20.57" x2="25.9" y2="20.57" stroke="#f22e2e" stroke-width="0.7" />
<line x1="23.3" y1="13.9" x2="25.9" y2="13.9" stroke="#f22e2e" stroke-width="0.7" />
<line x1="143.4" y1="13.5" x2="143.4" y2="101" stroke="#3c8cf0" stroke-width="1.2" />
<line x1="143.4" y1="100.6" x2="141.2" y2="100.6" stroke="#3c8cf0" stroke-width="0.6" />
<line x1="143.4" y1="91.93" x2="142.2" y2="91.93" stroke="#3c8cf0" stroke-width="0.6" />
<line x1="143.4" y1="83.26" x2="141.2" y2="83.26" stroke="#3c8cf0" stroke-width="0.6" />
<line x1="143.4" y1="74.59" x2="142.2" y2="74.59" stroke="#3c8cf0" stroke-width="0.6" />
<line x1="143.4" y1="65.92" x2="141.2" y2="65.92" stroke="#3c8cf0" stroke-width="0.6" />
<line x1="143.4" y1="57.25" x2="142.2" y2="57.25" stroke="#3c8cf0" stroke-width="0.6" />
<line x1="143.4" y1="48.58" x2="141.2" y2="48.58" stroke="#3c8cf0" stroke-width="0.6" />
<line x1="143.4" y1="39.91" x2="142.2" y2="39.91" stroke="#3c8cf0" stroke-width="0.6" />
<line x1="143.4" y1="31.24" x2="141.2" y2="31.24" stroke="#3c8cf0" stroke-width="0.6" />
<line x1="143.4" y1="22.57" x2="142.2" y2="22.57" stroke="#3c8cf0" stroke-width="0.6" />
<line x1="143.4" y1="13.9" x2="141.2" y2="13.9" stroke="#3c8cf0" stroke-width="0.6" />
<text x="21.2" y="102.18" font-size="4.4" fill="#f22e2e" text-anchor="end" font-weight="bold" font-family="'Liberation Sans', Arial, sans-serif"  stroke="#f22e2e" stroke-width="0.3">120</text>
<text x="21.2" y="95.51" font-size="4.4" fill="#f22e2e" text-anchor="end" font-weight="bold" font-family="'Liberation Sans', Arial, sans-serif"  stroke="#f22e2e" stroke-width="0.3">130</text>
<text x="21.2" y="88.85" font-size="4.4" fill="#f22e2e" text-anchor="end" font-weight="bold" font-family="'Liberation Sans', Arial, sans-serif"  stroke="#f22e2e" stroke-width="0.3">140</text>
<text x="21.2" y="82.18" font-size="4.4" fill="#f22e2e" text-anchor="end" font-weight="bold" font-family="'Liberation Sans', Arial, sans-serif"  stroke="#f22e2e" stroke-width="0.3">150</text>
<text x="21.2" y="75.51" font-size="4.4" fill="#f22e2e" text-anchor="end" font-weight="bold" font-family="'Liberation Sans', Arial, sans-serif"  stroke="#f22e2e" stroke-width="0.3">160</text>
<text x="21.2" y="68.84" font-size="4.4" fill="#f22e2e" text-anchor="end" font-weight="bold" font-family="'Liberation Sans', Arial, sans-serif"  stroke="#f22e2e" stroke-width="0.3">170</text>
<text x="21.2" y="62.17" font-size="4.4" fill="#f22e2e" text-anchor="end" font-weight="bold" font-family="'Liberation Sans', Arial, sans-serif"  stroke="#f22e2e" stroke-width="0.3">180</text>
<text x="21.2" y="55.5" font-size="4.4" fill="#f22e2e" text-anchor="end" font-weight="bold" font-family="'Liberation Sans', Arial, sans-serif"  stroke="#f22e2e" stroke-width="0.3">190</text>
<text x="21.2" y="48.83" font-size="4.4" fill="#f22e2e" text-anchor="end" font-weight="bold" font-family="'Liberation Sans', Arial, sans-serif"  stroke="#f22e2e" stroke-width="0.3">200</text>
<text x="21.2" y="42.16" font-size="4.4" fill="#f22e2e" text-anchor="end" font-weight="bold" font-family="'Liberation Sans', Arial, sans-serif"  stroke="#f22e2e" stroke-width="0.3">210</text>
<text x="21.2" y="35.49" font-size="4.4" fill="#f22e2e" text-anchor="end" font-weight="bold" font-family="'Liberation Sans', Arial, sans-serif"  stroke="#f22e2e" stroke-width="0.3">220</text>
<text x="21.2" y="28.82" font-size="4.4" fill="#f22e2e" text-anchor="end" font-weight="bold" font-family="'Liberation Sans', Arial, sans-serif"  stroke="#f22e2e" stroke-width="0.3">230</text>
<text x="21.2" y="22.15" font-size="4.4" fill="#f22e2e" text-anchor="end" font-weight="bold" font-family="'Liberation Sans', Arial, sans-serif"  stroke="#f22e2e" stroke-width="0.3">240</text>
<text x="21.2" y="15.48" font-size="4.4" fill="#f22e2e" text-anchor="end" font-weight="bold" font-family="'Liberation Sans', Arial, sans-serif"  stroke="#f22e2e" stroke-width="0.3">250</text>
<text x="23.3" y="110.68" font-size="4.4" fill="#111" text-anchor="middle" font-weight="bold" font-family="'Liberation Sans', Arial, sans-serif"  stroke="#111" stroke-width="0.3">0</text>
<text x="35.31" y="110.68" font-size="4.4" fill="#111" text-anchor="middle" font-weight="bold" font-family="'Liberation Sans', Arial, sans-serif"  stroke="#111" stroke-width="0.3">5</text>
<text x="47.32" y="110.68" font-size="4.4" fill="#111" text-anchor="middle" font-weight="bold" font-family="'Liberation Sans', Arial, sans-serif"  stroke="#111" stroke-width="0.3">10</text>
<text x="59.33" y="110.68" font-size="4.4" fill="#111" text-anchor="middle" font-weight="bold" font-family="'Liberation Sans', Arial, sans-serif"  stroke="#111" stroke-width="0.3">15</text>
<text x="71.34" y="110.68" font-size="4.4" fill="#111" text-anchor="middle" font-weight="bold" font-family="'Liberation Sans', Arial, sans-serif"  stroke="#111" stroke-width="0.3">20</text>
<text x="83.35" y="110.68" font-size="4.4" fill="#111" text-anchor="middle" font-weight="bold" font-family="'Liberation Sans', Arial, sans-serif"  stroke="#111" stroke-width="0.3">25</text>
<text x="95.36" y="110.68" font-size="4.4" fill="#111" text-anchor="middle" font-weight="bold" font-family="'Liberation Sans', Arial, sans-serif"  stroke="#111" stroke-width="0.3">30</text>
<text x="107.37" y="110.68" font-size="4.4" fill="#111" text-anchor="middle" font-weight="bold" font-family="'Liberation Sans', Arial, sans-serif"  stroke="#111" stroke-width="0.3">35</text>
<text x="119.38" y="110.68" font-size="4.4" fill="#111" text-anchor="middle" font-weight="bold" font-family="'Liberation Sans', Arial, sans-serif"  stroke="#111" stroke-width="0.3">40</text>
<text x="131.39" y="110.68" font-size="4.4" fill="#111" text-anchor="middle" font-weight="bold" font-family="'Liberation Sans', Arial, sans-serif"  stroke="#111" stroke-width="0.3">45</text>
<text x="143.4" y="110.68" font-size="4.4" fill="#111" text-anchor="middle" font-weight="bold" font-family="'Liberation Sans', Arial, sans-serif"  stroke="#111" stroke-width="0.3">50</text>
<text x="146.3" y="102.18" font-size="4.4" fill="#3c8cf0" text-anchor="start" font-weight="bold" font-family="'Liberation Sans', Arial, sans-serif"  stroke="#3c8cf0" stroke-width="0.3">0</text>
<text x="146.3" y="84.84" font-size="4.4" fill="#3c8cf0" text-anchor="start" font-weight="bold" font-family="'Liberation Sans', Arial, sans-serif"  stroke="#3c8cf0" stroke-width="0.3">10</text>
<text x="146.3" y="67.5" font-size="4.4" fill="#3c8cf0" text-anchor="start" font-weight="bold" font-family="'Liberation Sans', Arial, sans-serif"  stroke="#3c8cf0" stroke-width="0.3">20</text>
<text x="146.3" y="50.16" font-size="4.4" fill="#3c8cf0" text-anchor="start" font-weight="bold" font-family="'Liberation Sans', Arial, sans-serif"  stroke="#3c8cf0" stroke-width="0.3">30</text>
<text x="146.3" y="32.82" font-size="4.4" fill="#3c8cf0" text-anchor="start" font-weight="bold" font-family="'Liberation Sans', Arial, sans-serif"  stroke="#3c8cf0" stroke-width="0.3">40</text>
<text x="146.3" y="15.48" font-size="4.4" fill="#3c8cf0" text-anchor="start" font-weight="bold" font-family="'Liberation Sans', Arial, sans-serif"  stroke="#3c8cf0" stroke-width="0.3">50</text>
<text x="11.3" y="62.5" font-size="6.5" fill="#f22e2e" text-anchor="middle" font-weight="bold" font-family="'Liberation Sans', Arial, sans-serif" transform="rotate(-90 11.3 62.5)" >Resistance (&#937;)</text>
<text x="156.8" y="59.8" font-size="6.5" fill="#3c8cf0" text-anchor="middle" font-weight="bold" font-family="'Liberation Sans', Arial, sans-serif" transform="rotate(-90 156.8 59.8)" >NH<tspan font-size="4.5" dy="1.5">3</tspan><tspan dy="-1.5"> gas flow rate (sccm)</tspan></text>
<text x="84.5" y="118" font-size="6.4" fill="#111" text-anchor="middle" font-weight="bold" font-family="'Liberation Sans', Arial, sans-serif" >Time (min)</text>
<text x="142.3" y="29.3" font-size="5.9" fill="#c8304e" text-anchor="end" font-weight="bold" font-family="'Liberation Sans', Arial, sans-serif" >MI-250</text>
<text x="142.3" y="81.1" font-size="5.6" fill="#f57a5c" text-anchor="end" font-weight="bold" font-family="'Liberation Sans', Arial, sans-serif" >MI@FTO</text>
<text x="82.7" y="145" font-size="12.5" fill="#111" text-anchor="middle" font-weight="bold" font-family="'Liberation Serif', 'Times New Roman', serif" ><tspan font-weight="normal">(</tspan>a<tspan font-weight="normal">)</tspan></text>
<line x1="210.69" y1="13" x2="210.69" y2="101.3" stroke="#d6e4f6" stroke-width="0.7" />
<line x1="222.48" y1="13" x2="222.48" y2="101.3" stroke="#d6e4f6" stroke-width="0.7" />
<line x1="234.27" y1="13" x2="234.27" y2="101.3" stroke="#d6e4f6" stroke-width="0.7" />
<line x1="246.06" y1="13" x2="246.06" y2="101.3" stroke="#d6e4f6" stroke-width="0.7" />
<line x1="257.85" y1="13" x2="257.85" y2="101.3" stroke="#d6e4f6" stroke-width="0.7" />
<line x1="269.64" y1="13" x2="269.64" y2="101.3" stroke="#d6e4f6" stroke-width="0.7" />
<line x1="281.43" y1="13" x2="281.43" y2="101.3" stroke="#d6e4f6" stroke-width="0.7" />
<line x1="293.22" y1="13" x2="293.22" y2="101.3" stroke="#d6e4f6" stroke-width="0.7" />
<path d="M198.9 24.13 L200.08 25.74 L201.26 27.31 L202.44 28.85 L203.62 30.35 L204.8 31.82 L205.97 33.25 L207.15 34.64 L208.33 36.01 L209.51 37.34 L210.69 38.64 L211.87 39.91 L213.05 41.15 L214.23 42.37 L215.41 43.55 L216.59 44.7 L217.76 45.83 L218.94 46.93 L220.12 48.01 L221.3 49.06 L222.48 50.09 L223.66 51.09 L224.84 52.06 L226.02 53.02 L227.2 53.95 L228.38 54.86 L229.55 55.75 L230.73 56.62 L231.91 57.47 L233.09 58.29 L234.27 59.1 L235.45 59.89 L236.63 60.66 L237.81 61.42 L238.99 62.15 L240.17 62.87 L241.34 63.57 L242.52 64.25 L243.7 64.92 L244.88 65.57 L246.06 66.21 L247.24 66.83 L248.42 67.44 L249.6 68.03 L250.78 68.61 L251.96 69.18 L253.13 69.73 L254.31 70.27 L255.49 70.79 L256.67 71.31 L257.85 71.81 L259.03 72.3 L260.21 72.78 L261.39 73.25 L262.57 73.7 L263.75 74.15 L264.92 74.58 L266.1 75.01 L267.28 75.42 L268.46 75.83 L269.64 76.23 L270.82 76.61 L272 76.99 L273.18 77.36 L274.36 77.72 L275.54 78.07 L276.71 78.41 L277.89 78.75 L279.07 79.07 L280.25 79.39 L281.43 79.7 L282.61 80.01 L283.79 80.31 L284.97 80.6 L286.15 80.88 L287.32 81.16 L288.5 81.43 L289.68 81.69 L290.86 81.95 L292.04 82.2 L293.22 82.45 L294.4 82.69 L295.58 82.92 L296.76 83.15 L297.94 83.37 L299.12 83.59 L300.29 83.8 L301.47 84.01 L302.65 84.22 L303.83 84.41 L305.01 84.61 L306.19 84.8 L307.37 84.98 L308.55 85.16 L309.73 85.34 L310.9 85.51 L312.08 85.68 L313.26 85.84 L314.44 86 L315.62 86.16 L316.8 86.31" stroke="#c4e2a2" stroke-width="1.15" fill="none" />
<path d="M198.9 36.24 L200.08 36.6 L201.26 36.95 L202.44 37.29 L203.62 37.62 L204.8 37.94 L205.97 38.25 L207.15 38.55 L208.33 38.85 L209.51 39.13 L210.69 39.41 L211.87 39.68 L213.05 39.94 L214.23 40.19 L215.41 40.44 L216.59 40.68 L217.76 40.91 L218.94 41.13 L220.12 41.35 L221.3 41.56 L222.48 41.77 L223.66 41.97 L224.84 42.16 L226.02 42.35 L227.2 42.54 L228.38 42.71 L229.55 42.89 L230.73 43.05 L231.91 43.22 L233.09 43.37 L234.27 43.53 L235.45 43.68 L236.63 43.82 L237.81 43.96 L238.99 44.1 L240.17 44.23 L241.34 44.36 L242.52 44.49 L243.7 44.61 L244.88 44.72 L246.06 44.84 L247.24 44.95 L248.42 45.06 L249.6 45.16 L250.78 45.26 L251.96 45.36 L253.13 45.46 L254.31 45.55 L255.49 45.64 L256.67 45.73 L257.85 45.82 L259.03 45.9 L260.21 45.98 L261.39 46.06 L262.57 46.13 L263.75 46.21 L264.92 46.28 L266.1 46.35 L267.28 46.42 L268.46 46.48 L269.64 46.54 L270.82 46.61 L272 46.67 L273.18 46.72 L274.36 46.78 L275.54 46.84 L276.71 46.89 L277.89 46.94 L279.07 46.99 L280.25 47.04 L281.43 47.09 L282.61 47.13 L283.79 47.18 L284.97 47.22 L286.15 47.26 L287.32 47.3 L288.5 47.34 L289.68 47.38 L290.86 47.42 L292.04 47.46 L293.22 47.49 L294.4 47.53 L295.58 47.56 L296.76 47.59 L297.94 47.62 L299.12 47.65 L300.29 47.68 L301.47 47.71 L302.65 47.74 L303.83 47.77 L305.01 47.79 L306.19 47.82 L307.37 47.84 L308.55 47.87 L309.73 47.89 L310.9 47.91 L312.08 47.93 L313.26 47.96 L314.44 47.98 L315.62 48 L316.8 48.02" stroke="#fcd8a2" stroke-width="1.15" fill="none" />
<path d="M198.9 89.64 L200.08 89.92 L201.26 90.18 L202.44 90.43 L203.62 90.68 L204.8 90.92 L205.97 91.15 L207.15 91.38 L208.33 91.6 L209.51 91.81 L210.69 92.01 L211.87 92.21 L213.05 92.41 L214.23 92.59 L215.41 92.77 L216.59 92.95 L217.76 93.12 L218.94 93.28 L220.12 93.44 L221.3 93.6 L222.48 93.75 L223.66 93.89 L224.84 94.03 L226.02 94.17 L227.2 94.3 L228.38 94.43 L229.55 94.56 L230.73 94.68 L231.91 94.79 L233.09 94.91 L234.27 95.02 L235.45 95.12 L236.63 95.23 L237.81 95.33 L238.99 95.42 L240.17 95.52 L241.34 95.61 L242.52 95.7 L243.7 95.78 L244.88 95.86 L246.06 95.94 L247.24 96.02 L248.42 96.1 L249.6 96.17 L250.78 96.24 L251.96 96.31 L253.13 96.38 L254.31 96.44 L255.49 96.5 L256.67 96.56 L257.85 96.62 L259.03 96.68 L260.21 96.74 L261.39 96.79 L262.57 96.84 L263.75 96.89 L264.92 96.94 L266.1 96.99 L267.28 97.03 L268.46 97.08 L269.64 97.12 L270.82 97.16 L272 97.2 L273.18 97.24 L274.36 97.28 L275.54 97.32 L276.71 97.35 L277.89 97.39 L279.07 97.42 L280.25 97.45 L281.43 97.48 L282.61 97.51 L283.79 97.54 L284.97 97.57 L286.15 97.6 L287.32 97.63 L288.5 97.65 L289.68 97.68 L290.86 97.7 L292.04 97.73 L293.22 97.75 L294.4 97.77 L295.58 97.79 L296.76 97.81 L297.94 97.83 L299.12 97.85 L300.29 97.87 L301.47 97.89 L302.65 97.91 L303.83 97.93 L305.01 97.94 L306.19 97.96 L307.37 97.98 L308.55 97.99 L309.73 98.01 L310.9 98.02 L312.08 98.03 L313.26 98.05 L314.44 98.06 L315.62 98.07 L316.8 98.09" stroke="#f6aace" stroke-width="1.15" fill="none" />
<rect x="210.69" y="66.3" width="11.79" height="35" fill="#c6d9f3" style="mix-blend-mode:multiply"/>
<rect x="234.27" y="58.2" width="11.79" height="43.1" fill="#c6d9f3" style="mix-blend-mode:multiply"/>
<rect x="257.85" y="49.5" width="11.79" height="51.8" fill="#c6d9f3" style="mix-blend-mode:multiply"/>
<rect x="281.43" y="40.6" width="11.79" height="60.7" fill="#c6d9f3" style="mix-blend-mode:multiply"/>
<line x1="198.4" y1="13" x2="317.3" y2="13" stroke="#222" stroke-width="0.9" />
<line x1="198.4" y1="101.3" x2="317.3" y2="101.3" stroke="#222" stroke-width="0.9" />
<line x1="198.9" y1="13" x2="198.9" y2="16.1" stroke="#111" stroke-width="0.75" />
<line x1="198.9" y1="101.3" x2="198.9" y2="104.4" stroke="#111" stroke-width="0.75" />
<line x1="201.26" y1="13" x2="201.26" y2="14.6" stroke="#111" stroke-width="0.75" />
<line x1="201.26" y1="101.3" x2="201.26" y2="102.9" stroke="#111" stroke-width="0.75" />
<line x1="203.62" y1="13" x2="203.62" y2="14.6" stroke="#111" stroke-width="0.75" />
<line x1="203.62" y1="101.3" x2="203.62" y2="102.9" stroke="#111" stroke-width="0.75" />
<line x1="205.97" y1="13" x2="205.97" y2="14.6" stroke="#111" stroke-width="0.75" />
<line x1="205.97" y1="101.3" x2="205.97" y2="102.9" stroke="#111" stroke-width="0.75" />
<line x1="208.33" y1="13" x2="208.33" y2="14.6" stroke="#111" stroke-width="0.75" />
<line x1="208.33" y1="101.3" x2="208.33" y2="102.9" stroke="#111" stroke-width="0.75" />
<line x1="210.69" y1="13" x2="210.69" y2="16.1" stroke="#111" stroke-width="0.75" />
<line x1="210.69" y1="101.3" x2="210.69" y2="104.4" stroke="#111" stroke-width="0.75" />
<line x1="213.05" y1="13" x2="213.05" y2="14.6" stroke="#111" stroke-width="0.75" />
<line x1="213.05" y1="101.3" x2="213.05" y2="102.9" stroke="#111" stroke-width="0.75" />
<line x1="215.41" y1="13" x2="215.41" y2="14.6" stroke="#111" stroke-width="0.75" />
<line x1="215.41" y1="101.3" x2="215.41" y2="102.9" stroke="#111" stroke-width="0.75" />
<line x1="217.76" y1="13" x2="217.76" y2="14.6" stroke="#111" stroke-width="0.75" />
<line x1="217.76" y1="101.3" x2="217.76" y2="102.9" stroke="#111" stroke-width="0.75" />
<line x1="220.12" y1="13" x2="220.12" y2="14.6" stroke="#111" stroke-width="0.75" />
<line x1="220.12" y1="101.3" x2="220.12" y2="102.9" stroke="#111" stroke-width="0.75" />
<line x1="222.48" y1="13" x2="222.48" y2="16.1" stroke="#111" stroke-width="0.75" />
<line x1="222.48" y1="101.3" x2="222.48" y2="104.4" stroke="#111" stroke-width="0.75" />
<line x1="224.84" y1="13" x2="224.84" y2="14.6" stroke="#111" stroke-width="0.75" />
<line x1="224.84" y1="101.3" x2="224.84" y2="102.9" stroke="#111" stroke-width="0.75" />
<line x1="227.2" y1="13" x2="227.2" y2="14.6" stroke="#111" stroke-width="0.75" />
<line x1="227.2" y1="101.3" x2="227.2" y2="102.9" stroke="#111" stroke-width="0.75" />
<line x1="229.55" y1="13" x2="229.55" y2="14.6" stroke="#111" stroke-width="0.75" />
<line x1="229.55" y1="101.3" x2="229.55" y2="102.9" stroke="#111" stroke-width="0.75" />
<line x1="231.91" y1="13" x2="231.91" y2="14.6" stroke="#111" stroke-width="0.75" />
<line x1="231.91" y1="101.3" x2="231.91" y2="102.9" stroke="#111" stroke-width="0.75" />
<line x1="234.27" y1="13" x2="234.27" y2="16.1" stroke="#111" stroke-width="0.75" />
<line x1="234.27" y1="101.3" x2="234.27" y2="104.4" stroke="#111" stroke-width="0.75" />
<line x1="236.63" y1="13" x2="236.63" y2="14.6" stroke="#111" stroke-width="0.75" />
<line x1="236.63" y1="101.3" x2="236.63" y2="102.9" stroke="#111" stroke-width="0.75" />
<line x1="238.99" y1="13" x2="238.99" y2="14.6" stroke="#111" stroke-width="0.75" />
<line x1="238.99" y1="101.3" x2="238.99" y2="102.9" stroke="#111" stroke-width="0.75" />
<line x1="241.34" y1="13" x2="241.34" y2="14.6" stroke="#111" stroke-width="0.75" />
<line x1="241.34" y1="101.3" x2="241.34" y2="102.9" stroke="#111" stroke-width="0.75" />
<line x1="243.7" y1="13" x2="243.7" y2="14.6" stroke="#111" stroke-width="0.75" />
<line x1="243.7" y1="101.3" x2="243.7" y2="102.9" stroke="#111" stroke-width="0.75" />
<line x1="246.06" y1="13" x2="246.06" y2="16.1" stroke="#111" stroke-width="0.75" />
<line x1="246.06" y1="101.3" x2="246.06" y2="104.4" stroke="#111" stroke-width="0.75" />
<line x1="248.42" y1="13" x2="248.42" y2="14.6" stroke="#111" stroke-width="0.75" />
<line x1="248.42" y1="101.3" x2="248.42" y2="102.9" stroke="#111" stroke-width="0.75" />
<line x1="250.78" y1="13" x2="250.78" y2="14.6" stroke="#111" stroke-width="0.75" />
<line x1="250.78" y1="101.3" x2="250.78" y2="102.9" stroke="#111" stroke-width="0.75" />
<line x1="253.13" y1="13" x2="253.13" y2="14.6" stroke="#111" stroke-width="0.75" />
<line x1="253.13" y1="101.3" x2="253.13" y2="102.9" stroke="#111" stroke-width="0.75" />
<line x1="255.49" y1="13" x2="255.49" y2="14.6" stroke="#111" stroke-width="0.75" />
<line x1="255.49" y1="101.3" x2="255.49" y2="102.9" stroke="#111" stroke-width="0.75" />
<line x1="257.85" y1="13" x2="257.85" y2="16.1" stroke="#111" stroke-width="0.75" />
<line x1="257.85" y1="101.3" x2="257.85" y2="104.4" stroke="#111" stroke-width="0.75" />
<line x1="260.21" y1="13" x2="260.21" y2="14.6" stroke="#111" stroke-width="0.75" />
<line x1="260.21" y1="101.3" x2="260.21" y2="102.9" stroke="#111" stroke-width="0.75" />
<line x1="262.57" y1="13" x2="262.57" y2="14.6" stroke="#111" stroke-width="0.75" />
<line x1="262.57" y1="101.3" x2="262.57" y2="102.9" stroke="#111" stroke-width="0.75" />
<line x1="264.92" y1="13" x2="264.92" y2="14.6" stroke="#111" stroke-width="0.75" />
<line x1="264.92" y1="101.3" x2="264.92" y2="102.9" stroke="#111" stroke-width="0.75" />
<line x1="267.28" y1="13" x2="267.28" y2="14.6" stroke="#111" stroke-width="0.75" />
<line x1="267.28" y1="101.3" x2="267.28" y2="102.9" stroke="#111" stroke-width="0.75" />
<line x1="269.64" y1="13" x2="269.64" y2="16.1" stroke="#111" stroke-width="0.75" />
<line x1="269.64" y1="101.3" x2="269.64" y2="104.4" stroke="#111" stroke-width="0.75" />
<line x1="272" y1="13" x2="272" y2="14.6" stroke="#111" stroke-width="0.75" />
<line x1="272" y1="101.3" x2="272" y2="102.9" stroke="#111" stroke-width="0.75" />
<line x1="274.36" y1="13" x2="274.36" y2="14.6" stroke="#111" stroke-width="0.75" />
<line x1="274.36" y1="101.3" x2="274.36" y2="102.9" stroke="#111" stroke-width="0.75" />
<line x1="276.71" y1="13" x2="276.71" y2="14.6" stroke="#111" stroke-width="0.75" />
<line x1="276.71" y1="101.3" x2="276.71" y2="102.9" stroke="#111" stroke-width="0.75" />
<line x1="279.07" y1="13" x2="279.07" y2="14.6" stroke="#111" stroke-width="0.75" />
<line x1="279.07" y1="101.3" x2="279.07" y2="102.9" stroke="#111" stroke-width="0.75" />
<line x1="281.43" y1="13" x2="281.43" y2="16.1" stroke="#111" stroke-width="0.75" />
<line x1="281.43" y1="101.3" x2="281.43" y2="104.4" stroke="#111" stroke-width="0.75" />
<line x1="283.79" y1="13" x2="283.79" y2="14.6" stroke="#111" stroke-width="0.75" />
<line x1="283.79" y1="101.3" x2="283.79" y2="102.9" stroke="#111" stroke-width="0.75" />
<line x1="286.15" y1="13" x2="286.15" y2="14.6" stroke="#111" stroke-width="0.75" />
<line x1="286.15" y1="101.3" x2="286.15" y2="102.9" stroke="#111" stroke-width="0.75" />
<line x1="288.5" y1="13" x2="288.5" y2="14.6" stroke="#111" stroke-width="0.75" />
<line x1="288.5" y1="101.3" x2="288.5" y2="102.9" stroke="#111" stroke-width="0.75" />
<line x1="290.86" y1="13" x2="290.86" y2="14.6" stroke="#111" stroke-width="0.75" />
<line x1="290.86" y1="101.3" x2="290.86" y2="102.9" stroke="#111" stroke-width="0.75" />
<line x1="293.22" y1="13" x2="293.22" y2="16.1" stroke="#111" stroke-width="0.75" />
<line x1="293.22" y1="101.3" x2="293.22" y2="104.4" stroke="#111" stroke-width="0.75" />
<line x1="295.58" y1="13" x2="295.58" y2="14.6" stroke="#111" stroke-width="0.75" />
<line x1="295.58" y1="101.3" x2="295.58" y2="102.9" stroke="#111" stroke-width="0.75" />
<line x1="297.94" y1="13" x2="297.94" y2="14.6" stroke="#111" stroke-width="0.75" />
<line x1="297.94" y1="101.3" x2="297.94" y2="102.9" stroke="#111" stroke-width="0.75" />
<line x1="300.29" y1="13" x2="300.29" y2="14.6" stroke="#111" stroke-width="0.75" />
<line x1="300.29" y1="101.3" x2="300.29" y2="102.9" stroke="#111" stroke-width="0.75" />
<line x1="302.65" y1="13" x2="302.65" y2="14.6" stroke="#111" stroke-width="0.75" />
<line x1="302.65" y1="101.3" x2="302.65" y2="102.9" stroke="#111" stroke-width="0.75" />
<line x1="305.01" y1="13" x2="305.01" y2="16.1" stroke="#111" stroke-width="0.75" />
<line x1="305.01" y1="101.3" x2="305.01" y2="104.4" stroke="#111" stroke-width="0.75" />
<line x1="307.37" y1="13" x2="307.37" y2="14.6" stroke="#111" stroke-width="0.75" />
<line x1="307.37" y1="101.3" x2="307.37" y2="102.9" stroke="#111" stroke-width="0.75" />
<line x1="309.73" y1="13" x2="309.73" y2="14.6" stroke="#111" stroke-width="0.75" />
<line x1="309.73" y1="101.3" x2="309.73" y2="102.9" stroke="#111" stroke-width="0.75" />
<line x1="312.08" y1="13" x2="312.08" y2="14.6" stroke="#111" stroke-width="0.75" />
<line x1="312.08" y1="101.3" x2="312.08" y2="102.9" stroke="#111" stroke-width="0.75" />
<line x1="314.44" y1="13" x2="314.44" y2="14.6" stroke="#111" stroke-width="0.75" />
<line x1="314.44" y1="101.3" x2="314.44" y2="102.9" stroke="#111" stroke-width="0.75" />
<line x1="316.8" y1="13" x2="316.8" y2="16.1" stroke="#111" stroke-width="0.75" />
<line x1="316.8" y1="101.3" x2="316.8" y2="104.4" stroke="#111" stroke-width="0.75" />
<line x1="198.9" y1="12.6" x2="198.9" y2="101.7" stroke="#f22e2e" stroke-width="1.6" />
<line x1="198.9" y1="101.3" x2="201.5" y2="101.3" stroke="#f22e2e" stroke-width="0.8" />
<line x1="198.9" y1="99.53" x2="200.5" y2="99.53" stroke="#f22e2e" stroke-width="0.8" />
<line x1="198.9" y1="97.77" x2="200.5" y2="97.77" stroke="#f22e2e" stroke-width="0.8" />
<line x1="198.9" y1="96" x2="200.5" y2="96" stroke="#f22e2e" stroke-width="0.8" />
<line x1="198.9" y1="94.24" x2="200.5" y2="94.24" stroke="#f22e2e" stroke-width="0.8" />
<line x1="198.9" y1="92.47" x2="201.5" y2="92.47" stroke="#f22e2e" stroke-width="0.8" />
<line x1="198.9" y1="90.7" x2="200.5" y2="90.7" stroke="#f22e2e" stroke-width="0.8" />
<line x1="198.9" y1="88.94" x2="200.5" y2="88.94" stroke="#f22e2e" stroke-width="0.8" />
<line x1="198.9" y1="87.17" x2="200.5" y2="87.17" stroke="#f22e2e" stroke-width="0.8" />
<line x1="198.9" y1="85.41" x2="200.5" y2="85.41" stroke="#f22e2e" stroke-width="0.8" />
<line x1="198.9" y1="83.64" x2="201.5" y2="83.64" stroke="#f22e2e" stroke-width="0.8" />
<line x1="198.9" y1="81.87" x2="200.5" y2="81.87" stroke="#f22e2e" stroke-width="0.8" />
<line x1="198.9" y1="80.11" x2="200.5" y2="80.11" stroke="#f22e2e" stroke-width="0.8" />
<line x1="198.9" y1="78.34" x2="200.5" y2="78.34" stroke="#f22e2e" stroke-width="0.8" />
<line x1="198.9" y1="76.58" x2="200.5" y2="76.58" stroke="#f22e2e" stroke-width="0.8" />
<line x1="198.9" y1="74.81" x2="201.5" y2="74.81" stroke="#f22e2e" stroke-width="0.8" />
<line x1="198.9" y1="73.04" x2="200.5" y2="73.04" stroke="#f22e2e" stroke-width="0.8" />
<line x1="198.9" y1="71.28" x2="200.5" y2="71.28" stroke="#f22e2e" stroke-width="0.8" />
<line x1="198.9" y1="69.51" x2="200.5" y2="69.51" stroke="#f22e2e" stroke-width="0.8" />
<line x1="198.9" y1="67.75" x2="200.5" y2="67.75" stroke="#f22e2e" stroke-width="0.8" />
<line x1="198.9" y1="65.98" x2="201.5" y2="65.98" stroke="#f22e2e" stroke-width="0.8" />
<line x1="198.9" y1="64.21" x2="200.5" y2="64.21" stroke="#f22e2e" stroke-width="0.8" />
<line x1="198.9" y1="62.45" x2="200.5" y2="62.45" stroke="#f22e2e" stroke-width="0.8" />
<line x1="198.9" y1="60.68" x2="200.5" y2="60.68" stroke="#f22e2e" stroke-width="0.8" />
<line x1="198.9" y1="58.92" x2="200.5" y2="58.92" stroke="#f22e2e" stroke-width="0.8" />
<line x1="198.9" y1="57.15" x2="201.5" y2="57.15" stroke="#f22e2e" stroke-width="0.8" />
<line x1="198.9" y1="55.38" x2="200.5" y2="55.38" stroke="#f22e2e" stroke-width="0.8" />
<line x1="198.9" y1="53.62" x2="200.5" y2="53.62" stroke="#f22e2e" stroke-width="0.8" />
<line x1="198.9" y1="51.85" x2="200.5" y2="51.85" stroke="#f22e2e" stroke-width="0.8" />
<line x1="198.9" y1="50.09" x2="200.5" y2="50.09" stroke="#f22e2e" stroke-width="0.8" />
<line x1="198.9" y1="48.32" x2="201.5" y2="48.32" stroke="#f22e2e" stroke-width="0.8" />
<line x1="198.9" y1="46.55" x2="200.5" y2="46.55" stroke="#f22e2e" stroke-width="0.8" />
<line x1="198.9" y1="44.79" x2="200.5" y2="44.79" stroke="#f22e2e" stroke-width="0.8" />
<line x1="198.9" y1="43.02" x2="200.5" y2="43.02" stroke="#f22e2e" stroke-width="0.8" />
<line x1="198.9" y1="41.26" x2="200.5" y2="41.26" stroke="#f22e2e" stroke-width="0.8" />
<line x1="198.9" y1="39.49" x2="201.5" y2="39.49" stroke="#f22e2e" stroke-width="0.8" />
<line x1="198.9" y1="37.72" x2="200.5" y2="37.72" stroke="#f22e2e" stroke-width="0.8" />
<line x1="198.9" y1="35.96" x2="200.5" y2="35.96" stroke="#f22e2e" stroke-width="0.8" />
<line x1="198.9" y1="34.19" x2="200.5" y2="34.19" stroke="#f22e2e" stroke-width="0.8" />
<line x1="198.9" y1="32.43" x2="200.5" y2="32.43" stroke="#f22e2e" stroke-width="0.8" />
<line x1="198.9" y1="30.66" x2="201.5" y2="30.66" stroke="#f22e2e" stroke-width="0.8" />
<line x1="198.9" y1="28.89" x2="200.5" y2="28.89" stroke="#f22e2e" stroke-width="0.8" />
<line x1="198.9" y1="27.13" x2="200.5" y2="27.13" stroke="#f22e2e" stroke-width="0.8" />
<line x1="198.9" y1="25.36" x2="200.5" y2="25.36" stroke="#f22e2e" stroke-width="0.8" />
<line x1="198.9" y1="23.6" x2="200.5" y2="23.6" stroke="#f22e2e" stroke-width="0.8" />
<line x1="198.9" y1="21.83" x2="201.5" y2="21.83" stroke="#f22e2e" stroke-width="0.8" />
<line x1="198.9" y1="20.06" x2="200.5" y2="20.06" stroke="#f22e2e" stroke-width="0.8" />
<line x1="198.9" y1="18.3" x2="200.5" y2="18.3" stroke="#f22e2e" stroke-width="0.8" />
<line x1="198.9" y1="16.53" x2="200.5" y2="16.53" stroke="#f22e2e" stroke-width="0.8" />
<line x1="198.9" y1="14.77" x2="200.5" y2="14.77" stroke="#f22e2e" stroke-width="0.8" />
<line x1="198.9" y1="13" x2="201.5" y2="13" stroke="#f22e2e" stroke-width="0.8" />
<line x1="316.8" y1="12.6" x2="316.8" y2="101.7" stroke="#6a7cf0" stroke-width="1.2" />
<line x1="316.8" y1="101.3" x2="314.6" y2="101.3" stroke="#6a7cf0" stroke-width="0.6" />
<line x1="316.8" y1="92.47" x2="315.6" y2="92.47" stroke="#6a7cf0" stroke-width="0.6" />
<line x1="316.8" y1="83.64" x2="314.6" y2="83.64" stroke="#6a7cf0" stroke-width="0.6" />
<line x1="316.8" y1="74.81" x2="315.6" y2="74.81" stroke="#6a7cf0" stroke-width="0.6" />
<line x1="316.8" y1="65.98" x2="314.6" y2="65.98" stroke="#6a7cf0" stroke-width="0.6" />
<line x1="316.8" y1="57.15" x2="315.6" y2="57.15" stroke="#6a7cf0" stroke-width="0.6" />
<line x1="316.8" y1="48.32" x2="314.6" y2="48.32" stroke="#6a7cf0" stroke-width="0.6" />
<line x1="316.8" y1="39.49" x2="315.6" y2="39.49" stroke="#6a7cf0" stroke-width="0.6" />
<line x1="316.8" y1="30.66" x2="314.6" y2="30.66" stroke="#6a7cf0" stroke-width="0.6" />
<line x1="316.8" y1="21.83" x2="315.6" y2="21.83" stroke="#6a7cf0" stroke-width="0.6" />
<line x1="316.8" y1="13" x2="314.6" y2="13" stroke="#6a7cf0" stroke-width="0.6" />
<text x="196" y="102.96" font-size="4.6" fill="#f22e2e" text-anchor="end" font-weight="bold" font-family="'Liberation Sans', Arial, sans-serif"  stroke="#f22e2e" stroke-width="0.3">50</text>
<text x="196" y="94.13" font-size="4.6" fill="#f22e2e" text-anchor="end" font-weight="bold" font-family="'Liberation Sans', Arial, sans-serif"  stroke="#f22e2e" stroke-width="0.3">75</text>
<text x="196" y="85.3" font-size="4.6" fill="#f22e2e" text-anchor="end" font-weight="bold" font-family="'Liberation Sans', Arial, sans-serif"  stroke="#f22e2e" stroke-width="0.3">100</text>
<text x="196" y="76.47" font-size="4.6" fill="#f22e2e" text-anchor="end" font-weight="bold" font-family="'Liberation Sans', Arial, sans-serif"  stroke="#f22e2e" stroke-width="0.3">125</text>
<text x="196" y="67.64" font-size="4.6" fill="#f22e2e" text-anchor="end" font-weight="bold" font-family="'Liberation Sans', Arial, sans-serif"  stroke="#f22e2e" stroke-width="0.3">150</text>
<text x="196" y="58.81" font-size="4.6" fill="#f22e2e" text-anchor="end" font-weight="bold" font-family="'Liberation Sans', Arial, sans-serif"  stroke="#f22e2e" stroke-width="0.3">175</text>
<text x="196" y="49.98" font-size="4.6" fill="#f22e2e" text-anchor="end" font-weight="bold" font-family="'Liberation Sans', Arial, sans-serif"  stroke="#f22e2e" stroke-width="0.3">200</text>
<text x="196" y="41.15" font-size="4.6" fill="#f22e2e" text-anchor="end" font-weight="bold" font-family="'Liberation Sans', Arial, sans-serif"  stroke="#f22e2e" stroke-width="0.3">225</text>
<text x="196" y="32.32" font-size="4.6" fill="#f22e2e" text-anchor="end" font-weight="bold" font-family="'Liberation Sans', Arial, sans-serif"  stroke="#f22e2e" stroke-width="0.3">250</text>
<text x="196" y="23.49" font-size="4.6" fill="#f22e2e" text-anchor="end" font-weight="bold" font-family="'Liberation Sans', Arial, sans-serif"  stroke="#f22e2e" stroke-width="0.3">275</text>
<text x="196" y="14.66" font-size="4.6" fill="#f22e2e" text-anchor="end" font-weight="bold" font-family="'Liberation Sans', Arial, sans-serif"  stroke="#f22e2e" stroke-width="0.3">300</text>
<text x="198.9" y="110.76" font-size="4.6" fill="#111" text-anchor="middle" font-weight="bold" font-family="'Liberation Sans', Arial, sans-serif"  stroke="#111" stroke-width="0.3">0</text>
<text x="210.69" y="110.76" font-size="4.6" fill="#111" text-anchor="middle" font-weight="bold" font-family="'Liberation Sans', Arial, sans-serif"  stroke="#111" stroke-width="0.3">5</text>
<text x="222.48" y="110.76" font-size="4.6" fill="#111" text-anchor="middle" font-weight="bold" font-family="'Liberation Sans', Arial, sans-serif"  stroke="#111" stroke-width="0.3">10</text>
<text x="234.27" y="110.76" font-size="4.6" fill="#111" text-anchor="middle" font-weight="bold" font-family="'Liberation Sans', Arial, sans-serif"  stroke="#111" stroke-width="0.3">15</text>
<text x="246.06" y="110.76" font-size="4.6" fill="#111" text-anchor="middle" font-weight="bold" font-family="'Liberation Sans', Arial, sans-serif"  stroke="#111" stroke-width="0.3">20</text>
<text x="257.85" y="110.76" font-size="4.6" fill="#111" text-anchor="middle" font-weight="bold" font-family="'Liberation Sans', Arial, sans-serif"  stroke="#111" stroke-width="0.3">25</text>
<text x="269.64" y="110.76" font-size="4.6" fill="#111" text-anchor="middle" font-weight="bold" font-family="'Liberation Sans', Arial, sans-serif"  stroke="#111" stroke-width="0.3">30</text>
<text x="281.43" y="110.76" font-size="4.6" fill="#111" text-anchor="middle" font-weight="bold" font-family="'Liberation Sans', Arial, sans-serif"  stroke="#111" stroke-width="0.3">35</text>
<text x="293.22" y="110.76" font-size="4.6" fill="#111" text-anchor="middle" font-weight="bold" font-family="'Liberation Sans', Arial, sans-serif"  stroke="#111" stroke-width="0.3">40</text>
<text x="305.01" y="110.76" font-size="4.6" fill="#111" text-anchor="middle" font-weight="bold" font-family="'Liberation Sans', Arial, sans-serif"  stroke="#111" stroke-width="0.3">45</text>
<text x="316.8" y="110.76" font-size="4.6" fill="#111" text-anchor="middle" font-weight="bold" font-family="'Liberation Sans', Arial, sans-serif"  stroke="#111" stroke-width="0.3">50</text>
<text x="319.5" y="102.96" font-size="4.6" fill="#4a70e8" text-anchor="start" font-weight="bold" font-family="'Liberation Sans', Arial, sans-serif"  stroke="#4a70e8" stroke-width="0.3">0</text>
<text x="319.5" y="85.3" font-size="4.6" fill="#4a70e8" text-anchor="start" font-weight="bold" font-family="'Liberation Sans', Arial, sans-serif"  stroke="#4a70e8" stroke-width="0.3">10</text>
<text x="319.5" y="67.64" font-size="4.6" fill="#4a70e8" text-anchor="start" font-weight="bold" font-family="'Liberation Sans', Arial, sans-serif"  stroke="#4a70e8" stroke-width="0.3">20</text>
<text x="319.5" y="49.98" font-size="4.6" fill="#4a70e8" text-anchor="start" font-weight="bold" font-family="'Liberation Sans', Arial, sans-serif"  stroke="#4a70e8" stroke-width="0.3">30</text>
<text x="319.5" y="32.32" font-size="4.6" fill="#4a70e8" text-anchor="start" font-weight="bold" font-family="'Liberation Sans', Arial, sans-serif"  stroke="#4a70e8" stroke-width="0.3">40</text>
<text x="319.5" y="14.66" font-size="4.6" fill="#4a70e8" text-anchor="start" font-weight="bold" font-family="'Liberation Sans', Arial, sans-serif"  stroke="#4a70e8" stroke-width="0.3">50</text>
<text x="184.6" y="62.2" font-size="6.25" fill="#f22e2e" text-anchor="middle" font-weight="bold" font-family="'Liberation Sans', Arial, sans-serif" transform="rotate(-90 184.6 62.2)" >Resistance (&#937;)</text>
<text x="333.3" y="54.4" font-size="6.6" fill="#3f6fe6" text-anchor="middle" font-weight="bold" font-family="'Liberation Sans', Arial, sans-serif" transform="rotate(-90 333.3 54.4)" >NH<tspan font-size="4.5" dy="1.5">3</tspan><tspan dy="-1.5"> gas flow rate (sccm)</tspan></text>
<text x="265" y="119.1" font-size="6.4" fill="#111" text-anchor="middle" font-weight="bold" font-family="'Liberation Sans', Arial, sans-serif" >Time (min)</text>
<text x="206.2" y="29.9" font-size="5.6" fill="#c9e4b0" text-anchor="start" font-weight="bold" font-family="'Liberation Sans', Arial, sans-serif"  textLength="27.6" lengthAdjust="spacingAndGlyphs">MI-250-3h</text>
<text x="316" y="37.9" font-size="5.6" fill="#fcdca6" text-anchor="end" font-weight="bold" font-family="'Liberation Sans', Arial, sans-serif"  textLength="27.3" lengthAdjust="spacingAndGlyphs">MI-250-1h</text>
<text x="316.2" y="95.1" font-size="5.6" fill="#f7a6cc" text-anchor="end" font-weight="bold" font-family="'Liberation Sans', Arial, sans-serif"  textLength="18.1" lengthAdjust="spacingAndGlyphs">MI-300</text>
<text x="256.5" y="145" font-size="12.5" fill="#111" text-anchor="middle" font-weight="bold" font-family="'Liberation Serif', 'Times New Roman', serif" ><tspan font-weight="normal">(</tspan>b<tspan font-weight="normal">)</tspan></text>
<rect x="396.4" y="7" width="127.2" height="103.1" fill="none" stroke="#3a3a3a" stroke-width="1.3"/>
<line x1="396.4" y1="110.1" x2="399.2" y2="110.1" stroke="#3a3a3a" stroke-width="0.7" />
<line x1="396.4" y1="103.66" x2="398" y2="103.66" stroke="#3a3a3a" stroke-width="0.7" />
<line x1="396.4" y1="97.21" x2="399.2" y2="97.21" stroke="#3a3a3a" stroke-width="0.7" />
<line x1="396.4" y1="90.77" x2="398" y2="90.77" stroke="#3a3a3a" stroke-width="0.7" />
<line x1="396.4" y1="84.32" x2="399.2" y2="84.32" stroke="#3a3a3a" stroke-width="0.7" />
<line x1="396.4" y1="77.88" x2="398" y2="77.88" stroke="#3a3a3a" stroke-width="0.7" />
<line x1="396.4" y1="71.44" x2="399.2" y2="71.44" stroke="#3a3a3a" stroke-width="0.7" />
<line x1="396.4" y1="64.99" x2="398" y2="64.99" stroke="#3a3a3a" stroke-width="0.7" />
<line x1="396.4" y1="58.55" x2="399.2" y2="58.55" stroke="#3a3a3a" stroke-width="0.7" />
<line x1="396.4" y1="52.11" x2="398" y2="52.11" stroke="#3a3a3a" stroke-width="0.7" />
<line x1="396.4" y1="45.66" x2="399.2" y2="45.66" stroke="#3a3a3a" stroke-width="0.7" />
<line x1="396.4" y1="39.22" x2="398" y2="39.22" stroke="#3a3a3a" stroke-width="0.7" />
<line x1="396.4" y1="32.77" x2="399.2" y2="32.77" stroke="#3a3a3a" stroke-width="0.7" />
<line x1="396.4" y1="26.33" x2="398" y2="26.33" stroke="#3a3a3a" stroke-width="0.7" />
<line x1="396.4" y1="19.89" x2="399.2" y2="19.89" stroke="#3a3a3a" stroke-width="0.7" />
<line x1="396.4" y1="13.44" x2="398" y2="13.44" stroke="#3a3a3a" stroke-width="0.7" />
<line x1="396.4" y1="7" x2="399.2" y2="7" stroke="#3a3a3a" stroke-width="0.7" />
<line x1="396.4" y1="110.1" x2="396.4" y2="113.1" stroke="#3a3a3a" stroke-width="0.7" />
<line x1="409.12" y1="110.1" x2="409.12" y2="111.9" stroke="#3a3a3a" stroke-width="0.7" />
<line x1="421.84" y1="110.1" x2="421.84" y2="113.1" stroke="#3a3a3a" stroke-width="0.7" />
<line x1="434.56" y1="110.1" x2="434.56" y2="111.9" stroke="#3a3a3a" stroke-width="0.7" />
<line x1="447.28" y1="110.1" x2="447.28" y2="113.1" stroke="#3a3a3a" stroke-width="0.7" />
<line x1="460" y1="110.1" x2="460" y2="111.9" stroke="#3a3a3a" stroke-width="0.7" />
<line x1="472.72" y1="110.1" x2="472.72" y2="113.1" stroke="#3a3a3a" stroke-width="0.7" />
<line x1="485.44" y1="110.1" x2="485.44" y2="111.9" stroke="#3a3a3a" stroke-width="0.7" />
<line x1="498.16" y1="110.1" x2="498.16" y2="113.1" stroke="#3a3a3a" stroke-width="0.7" />
<line x1="510.88" y1="110.1" x2="510.88" y2="111.9" stroke="#3a3a3a" stroke-width="0.7" />
<line x1="523.6" y1="110.1" x2="523.6" y2="113.1" stroke="#3a3a3a" stroke-width="0.7" />
<text x="392.3" y="111.9" font-size="5" fill="#333" text-anchor="end" font-weight="bold" font-family="'Liberation Sans', Arial, sans-serif"  stroke="#333" stroke-width="0.3">0.00</text>
<text x="392.3" y="99.01" font-size="5" fill="#333" text-anchor="end" font-weight="bold" font-family="'Liberation Sans', Arial, sans-serif"  stroke="#333" stroke-width="0.3">0.05</text>
<text x="392.3" y="86.12" font-size="5" fill="#333" text-anchor="end" font-weight="bold" font-family="'Liberation Sans', Arial, sans-serif"  stroke="#333" stroke-width="0.3">0.10</text>
<text x="392.3" y="73.24" font-size="5" fill="#333" text-anchor="end" font-weight="bold" font-family="'Liberation Sans', Arial, sans-serif"  stroke="#333" stroke-width="0.3">0.15</text>
<text x="392.3" y="60.35" font-size="5" fill="#333" text-anchor="end" font-weight="bold" font-family="'Liberation Sans', Arial, sans-serif"  stroke="#333" stroke-width="0.3">0.20</text>
<text x="392.3" y="47.46" font-size="5" fill="#333" text-anchor="end" font-weight="bold" font-family="'Liberation Sans', Arial, sans-serif"  stroke="#333" stroke-width="0.3">0.25</text>
<text x="392.3" y="34.57" font-size="5" fill="#333" text-anchor="end" font-weight="bold" font-family="'Liberation Sans', Arial, sans-serif"  stroke="#333" stroke-width="0.3">0.30</text>
<text x="392.3" y="21.69" font-size="5" fill="#333" text-anchor="end" font-weight="bold" font-family="'Liberation Sans', Arial, sans-serif"  stroke="#333" stroke-width="0.3">0.35</text>
<text x="392.3" y="8.8" font-size="5" fill="#333" text-anchor="end" font-weight="bold" font-family="'Liberation Sans', Arial, sans-serif"  stroke="#333" stroke-width="0.3">0.40</text>
<text x="396.4" y="120.8" font-size="5" fill="#333" text-anchor="middle" font-weight="bold" font-family="'Liberation Sans', Arial, sans-serif"  stroke="#333" stroke-width="0.3">15</text>
<text x="421.84" y="120.8" font-size="5" fill="#333" text-anchor="middle" font-weight="bold" font-family="'Liberation Sans', Arial, sans-serif"  stroke="#333" stroke-width="0.3">20</text>
<text x="447.28" y="120.8" font-size="5" fill="#333" text-anchor="middle" font-weight="bold" font-family="'Liberation Sans', Arial, sans-serif"  stroke="#333" stroke-width="0.3">25</text>
<text x="472.72" y="120.8" font-size="5" fill="#333" text-anchor="middle" font-weight="bold" font-family="'Liberation Sans', Arial, sans-serif"  stroke="#333" stroke-width="0.3">30</text>
<text x="498.16" y="120.8" font-size="5" fill="#333" text-anchor="middle" font-weight="bold" font-family="'Liberation Sans', Arial, sans-serif"  stroke="#333" stroke-width="0.3">35</text>
<text x="523.6" y="120.8" font-size="5" fill="#333" text-anchor="middle" font-weight="bold" font-family="'Liberation Sans', Arial, sans-serif"  stroke="#333" stroke-width="0.3">40</text>
<text x="381.3" y="60.8" font-size="7.4" fill="#111" text-anchor="middle" font-weight="bold" font-family="'Liberation Sans', Arial, sans-serif" transform="rotate(-90 381.3 60.8)" >Response (%)</text>
<text x="460.3" y="127.4" font-size="7.5" fill="#111" text-anchor="middle" font-weight="bold" font-family="'Liberation Sans', Arial, sans-serif" >NH<tspan font-size="5.2" dy="1.7">3</tspan><tspan dy="-1.7"> gas flow rate (sccm)</tspan></text>
<path d="M421.84 81.75 L423.07 80.5 L424.61 78.91 L426.41 77.02 L428.44 74.9 L430.64 72.61 L432.97 70.2 L435.39 67.73 L437.86 65.25 L440.32 62.83 L442.75 60.53 L445.08 58.39 L447.28 56.49 L449.4 54.76 L451.52 53.11 L453.64 51.54 L455.76 50.03 L457.88 48.57 L460 47.16 L462.12 45.79 L464.24 44.45 L466.36 43.13 L468.48 41.83 L470.6 40.52 L472.72 39.22 L474.92 37.88 L477.25 36.51 L479.68 35.12 L482.14 33.74 L484.61 32.37 L487.03 31.05 L489.36 29.79 L491.56 28.6 L493.59 27.52 L495.39 26.55 L496.93 25.72 L498.16 25.04" stroke="#f27c90" stroke-width="0.7" fill="none" />
<path d="M421.84 99.27 L423.07 98.83 L424.61 98.27 L426.41 97.61 L428.44 96.86 L430.64 96.05 L432.97 95.2 L435.39 94.32 L437.86 93.44 L440.32 92.58 L442.75 91.74 L445.08 90.96 L447.28 90.25 L449.4 89.59 L451.52 88.92 L453.64 88.27 L455.76 87.62 L457.88 86.99 L460 86.37 L462.12 85.78 L464.24 85.21 L466.36 84.68 L468.48 84.18 L470.6 83.71 L472.72 83.29 L474.92 82.92 L477.25 82.58 L479.68 82.28 L482.14 82.01 L484.61 81.78 L487.03 81.57 L489.36 81.39 L491.56 81.22 L493.59 81.08 L495.39 80.95 L496.93 80.83 L498.16 80.72" stroke="#f89a86" stroke-width="0.7" fill="none" />
<rect x="420.24" y="80.15" width="3.2" height="3.2" fill="#d43c5c" transform="rotate(45 421.84 81.75)"/>
<rect x="445.68" y="54.89" width="3.2" height="3.2" fill="#d43c5c" transform="rotate(45 447.28 56.49)"/>
<rect x="471.12" y="37.62" width="3.2" height="3.2" fill="#d43c5c" transform="rotate(45 472.72 39.22)"/>
<rect x="496.56" y="23.44" width="3.2" height="3.2" fill="#d43c5c" transform="rotate(45 498.16 25.04)"/>
<circle cx="421.84" cy="99.27" r="2" fill="#f26a52" stroke="none" stroke-width="0.5" />
<circle cx="447.28" cy="90.25" r="2" fill="#f26a52" stroke="none" stroke-width="0.5" />
<circle cx="472.72" cy="83.29" r="2" fill="#f26a52" stroke="none" stroke-width="0.5" />
<circle cx="498.16" cy="80.72" r="2" fill="#f26a52" stroke="none" stroke-width="0.5" />
<text x="519" y="35.6" font-size="6.8" fill="#d43c5c" text-anchor="end" font-weight="bold" font-family="'Liberation Sans', Arial, sans-serif"  textLength="21.4" lengthAdjust="spacingAndGlyphs">MI-250</text>
<text x="519.1" y="97.1" font-size="6.7" fill="#f26a52" text-anchor="end" font-weight="bold" font-family="'Liberation Sans', Arial, sans-serif"  textLength="26.4" lengthAdjust="spacingAndGlyphs">MI@FTO</text>
<text x="450.6" y="145" font-size="12.5" fill="#111" text-anchor="middle" font-weight="bold" font-family="'Liberation Serif', 'Times New Roman', serif" ><tspan font-weight="normal">(</tspan>c<tspan font-weight="normal">)</tspan></text>
<rect x="76.2" y="158.2" width="79.8" height="216.7" fill="#c8dcf4" />
<line x1="48.9" y1="212.9" x2="317.5" y2="212.9" stroke="#8a8a8a" stroke-width="0.7" />
<line x1="48.9" y1="269.4" x2="156" y2="269.4" stroke="#8a8a8a" stroke-width="0.7" />
<line x1="48.9" y1="336.3" x2="157" y2="336.3" stroke="#8a8a8a" stroke-width="0.7" />
<line x1="48.9" y1="355.9" x2="317.5" y2="355.9" stroke="#8a8a8a" stroke-width="0.7" />
<line x1="78.4" y1="159.2" x2="78.4" y2="212.9" stroke="#777" stroke-width="0.6" stroke-dasharray="0.9 1.8" />
<line x1="123.1" y1="159.2" x2="123.1" y2="269.4" stroke="#777" stroke-width="0.6" stroke-dasharray="0.9 1.8" />
<line x1="160.4" y1="159.2" x2="160.4" y2="269.4" stroke="#777" stroke-width="0.6" stroke-dasharray="0.9 1.8" />
<line x1="238.4" y1="159.2" x2="238.4" y2="212.9" stroke="#777" stroke-width="0.6" stroke-dasharray="0.9 1.8" />
<line x1="76.6" y1="355.9" x2="76.6" y2="374.9" stroke="#777" stroke-width="0.6" stroke-dasharray="0.9 1.8" />
<line x1="84.6" y1="336.3" x2="84.6" y2="374.9" stroke="#777" stroke-width="0.6" stroke-dasharray="0.9 1.8" />
<line x1="157.8" y1="336.3" x2="157.8" y2="374.9" stroke="#777" stroke-width="0.6" stroke-dasharray="0.9 1.8" />
<line x1="209.4" y1="355.9" x2="209.4" y2="374.9" stroke="#777" stroke-width="0.6" stroke-dasharray="0.9 1.8" />
<path d="M48.9 210.56 L49.71 210.7 L50.77 210.07 L52.03 210.32 L53.43 209.84 L54.94 209.63 L56.51 209.88 L58.08 209.26 L59.6 208.99 L61.04 208.92 L62.33 208.79 L63.55 208.31 L64.78 208.2 L66 207.6 L67.19 207.47 L68.36 207.19 L69.47 206.74 L70.51 206.46 L71.47 206.21 L72.33 206.32 L73.07 206.17 L73.69 205.96 L74.17 205.84 L74.55 205.32 L74.84 205.39 L75.07 205.28 L75.26 205.27 L75.43 204.86 L75.6 205 L75.79 204.81 L76.03 205.43 L76.29 205.51 L76.55 206.29 L76.79 207.58 L77.03 207.69 L77.27 209.25 L77.5 210.08 L77.74 210.89 L77.97 211.98 L78.21 212.87 L78.45 213.77 L78.69 214.22 L78.93 214.85 L79.16 215.54 L79.4 216.13 L79.64 217.01 L79.88 217.51 L80.12 218.59 L80.36 218.61 L80.61 219.45 L80.86 220.17 L81.12 220.61 L81.39 222.19 L81.67 221.95 L81.94 223.13 L82.22 223.78 L82.5 224.97 L82.77 224.87 L83.04 226.24 L83.3 226.54 L83.55 227.34 L83.78 227.9 L84 228.85 L84.22 229.11 L84.42 229.99 L84.62 230.73 L84.83 231.69 L85.03 231.4 L85.24 232.91 L85.46 233.43 L85.7 233.77 L85.94 234.61 L86.19 235.1 L86.45 236.24 L86.71 236.6 L86.97 237.18 L87.25 237.84 L87.52 238.52 L87.8 239.19 L88.09 239.7 L88.38 241 L88.68 240.78 L88.99 241.07 L89.3 242.51 L89.62 243.17 L89.95 243.94 L90.27 244.46 L90.6 245.1 L90.94 245.82 L91.27 246.54 L91.61 246.78 L91.94 247.32 L92.28 248.32 L92.62 248.47 L92.96 248.58 L93.3 249.74 L93.65 249.81 L94 249.91 L94.36 250.17 L94.73 250.89 L95.1 251.03 L95.47 251.36 L95.84 251.67 L96.2 252.18 L96.57 252.87 L96.95 252.86 L97.34 252.96 L97.74 253.76 L98.18 253.98 L98.64 254.51 L99.13 254.98 L99.65 255.09 L100.2 255.52 L100.76 255.98 L101.35 256.19 L101.97 257.05 L102.6 257.67 L103.25 257.87 L103.92 258.25 L104.6 258.7 L105.31 259.04 L106.03 259.49 L106.77 260.03 L107.53 260.38 L108.3 260.92 L109.1 261.12 L109.92 261.99 L110.75 262.38 L111.6 262.56 L112.47 262.76 L113.36 263.71 L114.27 264.41 L115.18 264.47 L116.11 264.98 L117.05 265.42 L118.01 266.15 L119 266.26 L120.02 267.13 L121.08 267.29 L122.17 268 L123.3 268.22 L124.51 268.58 L125.79 268.72 L127.14 269.31 L128.53 269.81 L129.93 270.4 L131.33 270.7 L132.71 270.87 L134.04 271.47 L135.3 271.94 L136.46 272.02 L137.54 272.26 L138.54 272.54 L139.49 273.06 L140.39 273.23 L141.26 273.14 L142.12 273.65 L142.96 273.69 L143.82 273.86 L144.69 274.55 L145.6 274.73 L146.55 274.72 L147.56 275.28 L148.59 275.8 L149.63 276 L150.67 276.55 L151.67 277.12 L152.62 276.92 L153.51 277.64 L154.31 277.87 L155 277.83 L155.57 277.29 L156.05 277.4 L156.43 276.78 L156.76 276.65 L157.03 276.15 L157.27 275.52 L157.49 274.73 L157.71 274.19 L157.95 273.94 L158.22 273.02 L158.49 272.83 L158.73 272.36 L158.95 271.72 L159.15 271.83 L159.36 270.83 L159.59 270.75 L159.84 269.26 L160.14 268.57 L160.49 268.57 L160.91 267.69 L161.38 266.58 L161.88 265.66 L162.42 264.19 L162.99 263.35 L163.61 262.09 L164.26 261.07 L164.96 260.09 L165.71 258.67 L166.51 257.51 L167.35 256.06 L168.25 254.91 L169.2 253.8 L170.19 252.46 L171.24 251.54 L172.32 249.79 L173.45 249.12 L174.62 247.2 L175.83 246.36 L177.08 244.66 L178.37 243.91 L179.7 242.28 L181.11 241 L182.57 239.73 L184.08 238.08 L185.62 236.64 L187.18 235.09 L188.75 234.49 L190.32 232.79 L191.87 231.59 L193.41 230.54 L194.93 229.86 L196.45 227.94 L197.98 227.31 L199.51 226.14 L201.05 225.34 L202.58 223.86 L204.12 223.23 L205.65 222.6 L207.18 221.89 L208.72 221.06 L210.25 219.72 L211.8 219.14 L213.34 218.35 L214.89 217.35 L216.44 216.65 L217.98 216.49 L219.51 215.78 L221.03 215.14 L222.54 214.93 L224.03 213.99 L225.49 213.94 L226.93 213.5 L228.36 213.22 L229.77 213.12 L231.18 212.87 L232.58 212.74 L233.99 212.61 L235.4 212.87 L236.82 212.26 L238.26 212.43 L239.68 212.23 L241.03 211.93 L242.36 212.11 L243.68 211.69 L245.03 212.09 L246.42 211.62 L247.9 211.67 L249.47 211.82 L251.18 211.91 L253.04 211.91 L255.06 211.88 L257.23 211.63 L259.51 211.46 L261.9 211.79 L264.37 211.73 L266.9 211.46 L269.46 211.89 L272.05 211.73 L274.64 211.49 L277.21 211.81 L279.85 211.43 L282.62 211.53 L285.49 211.82 L288.41 211.4 L291.31 211.77 L294.16 211.48 L296.91 211.96 L299.51 211.66 L301.92 211.88 L304.07 211.54 L306.02 211.84 L307.83 212.17 L309.51 212.12 L311.05 211.67 L312.46 212.34 L313.74 212.39 L314.88 212.17 L315.89 212.61 L316.76 212.11 L317.5 212.36" stroke="#dc4c66" stroke-width="1.9" fill="none" stroke-linejoin="round"/>
<path d="M48.9 356.84 L49.54 356.89 L50.35 356.92 L51.31 356.72 L52.39 356.69 L53.55 356.96 L54.77 356.83 L56.02 357.01 L57.27 356.96 L58.49 357.26 L59.64 357.31 L60.8 357.37 L62.02 357.43 L63.29 357.56 L64.57 357.65 L65.84 357.85 L67.08 357.96 L68.26 358.1 L69.35 358.1 L70.34 358.39 L71.19 358.26 L71.92 358.37 L72.53 358.34 L73.06 358.08 L73.5 357.94 L73.88 358.16 L74.2 357.9 L74.49 357.84 L74.74 357.67 L74.98 357.57 L75.22 357.28 L75.43 357.22 L75.59 357.02 L75.7 356.89 L75.78 356.47 L75.83 356.57 L75.86 356.29 L75.89 355.81 L75.92 355.6 L75.96 355.31 L76.03 354.96 L76.1 354.42 L76.17 354.03 L76.24 353.31 L76.3 352.59 L76.36 351.96 L76.43 351.43 L76.51 350.6 L76.6 350.04 L76.71 349.36 L76.83 348.62 L76.97 347.96 L77.11 347.1 L77.26 346.35 L77.42 345.51 L77.59 344.72 L77.78 343.85 L77.98 343.2 L78.2 342.42 L78.45 341.71 L78.71 341.24 L79 340.7 L79.31 340.09 L79.63 339.76 L79.97 339.25 L80.33 338.81 L80.71 338.22 L81.11 337.73 L81.54 337.54 L81.99 337.13 L82.47 336.8 L82.97 336.4 L83.47 336.13 L83.99 335.63 L84.53 335.4 L85.09 334.93 L85.7 334.49 L86.35 334.4 L87.05 334.34 L87.82 333.78 L88.65 333.83 L89.55 333.46 L90.51 333.31 L91.51 333.2 L92.57 333.09 L93.67 332.85 L94.83 332.86 L96.03 332.8 L97.29 332.76 L98.59 332.54 L99.93 332.72 L101.33 332.71 L102.76 332.75 L104.24 332.37 L105.77 332.54 L107.35 332.36 L108.98 332.62 L110.67 332.68 L112.41 332.55 L114.2 332.54 L116.05 332.75 L118.01 332.82 L120.09 332.71 L122.27 332.79 L124.52 332.6 L126.79 332.82 L129.07 332.95 L131.32 332.98 L133.5 333.16 L135.58 332.92 L137.54 332.84 L139.43 333.13 L141.33 333.06 L143.21 333.17 L145.04 333.24 L146.8 333.26 L148.47 333.36 L150.02 333.37 L151.41 333.07 L152.63 333.23 L153.65 333.43 L154.44 333.16 L154.99 333.24 L155.35 333.07 L155.56 332.95 L155.65 333.07 L155.67 332.94 L155.66 332.75 L155.65 332.82 L155.68 332.58 L155.8 332.65 L155.95 332.84 L156.05 332.76 L156.11 332.65 L156.17 332.82 L156.22 332.85 L156.3 333.03 L156.41 333.13 L156.58 333.21 L156.82 333.47 L157.15 333.88 L157.52 334.35 L157.92 335.1 L158.34 335.78 L158.8 336.49 L159.33 337.17 L159.92 337.93 L160.61 338.87 L161.39 339.58 L162.29 340.46 L163.32 341.06 L164.52 341.98 L165.87 342.99 L167.37 343.6 L168.97 344.42 L170.64 345.41 L172.37 346.44 L174.11 347.23 L175.85 347.83 L177.54 348.53 L179.17 349.22 L180.76 349.72 L182.37 350.34 L183.98 350.79 L185.59 351.12 L187.2 351.62 L188.8 352.03 L190.38 352.33 L191.95 352.64 L193.5 353.17 L195.02 353.59 L196.52 353.67 L198.02 353.92 L199.52 354.26 L201 354.41 L202.46 354.56 L203.89 354.97 L205.29 354.91 L206.66 355.12 L207.98 355.31 L209.25 355.48 L210.44 355.73 L211.53 355.99 L212.54 356.25 L213.51 356.34 L214.46 356.44 L215.42 356.47 L216.43 356.75 L217.51 356.82 L218.69 357.06 L220 357.33 L221.4 357.41 L222.83 357.54 L224.31 357.65 L225.85 357.89 L227.45 358.06 L229.14 358.12 L230.92 358.31 L232.8 358.59 L234.8 358.46 L236.92 358.69 L239.08 358.71 L241.23 359.05 L243.4 359.03 L245.66 359.07 L248.05 359.1 L250.63 359.13 L253.43 359.17 L256.53 359.01 L259.96 359.22 L263.78 359.29 L268.31 359.12 L273.66 359.37 L279.61 359.38 L285.91 359.18 L292.32 359.3 L298.59 359.33 L304.49 359.32 L309.76 359.42 L314.18 359.26 L317.5 359.38" stroke="#f47e66" stroke-width="2.3" fill="none" stroke-linejoin="round"/>
<line x1="77.7" y1="212.8" x2="123.3" y2="212.8" stroke="#111" stroke-width="1.4" />
<line x1="160.4" y1="212.8" x2="238.4" y2="212.8" stroke="#111" stroke-width="1.4" />
<line x1="76.7" y1="355.4" x2="84.6" y2="355.4" stroke="#111" stroke-width="1.5" />
<line x1="157.8" y1="355.6" x2="209.4" y2="355.6" stroke="#111" stroke-width="1.4" />
<rect x="48.9" y="158.2" width="268.6" height="216.7" fill="none" stroke="#000" stroke-width="1.6"/>
<line x1="48.9" y1="158.2" x2="48.9" y2="165.2" stroke="#000" stroke-width="1.3" />
<line x1="48.9" y1="374.9" x2="48.9" y2="381.7" stroke="#000" stroke-width="1.3" />
<line x1="54.27" y1="158.2" x2="54.27" y2="161.8" stroke="#000" stroke-width="1.3" />
<line x1="54.27" y1="374.9" x2="54.27" y2="378.5" stroke="#000" stroke-width="1.3" />
<line x1="59.64" y1="158.2" x2="59.64" y2="161.8" stroke="#000" stroke-width="1.3" />
<line x1="59.64" y1="374.9" x2="59.64" y2="378.5" stroke="#000" stroke-width="1.3" />
<line x1="65.02" y1="158.2" x2="65.02" y2="161.8" stroke="#000" stroke-width="1.3" />
<line x1="65.02" y1="374.9" x2="65.02" y2="378.5" stroke="#000" stroke-width="1.3" />
<line x1="70.39" y1="158.2" x2="70.39" y2="161.8" stroke="#000" stroke-width="1.3" />
<line x1="70.39" y1="374.9" x2="70.39" y2="378.5" stroke="#000" stroke-width="1.3" />
<line x1="75.76" y1="158.2" x2="75.76" y2="165.2" stroke="#000" stroke-width="1.3" />
<line x1="75.76" y1="374.9" x2="75.76" y2="381.7" stroke="#000" stroke-width="1.3" />
<line x1="81.13" y1="158.2" x2="81.13" y2="161.8" stroke="#000" stroke-width="1.3" />
<line x1="81.13" y1="374.9" x2="81.13" y2="378.5" stroke="#000" stroke-width="1.3" />
<line x1="86.5" y1="158.2" x2="86.5" y2="161.8" stroke="#000" stroke-width="1.3" />
<line x1="86.5" y1="374.9" x2="86.5" y2="378.5" stroke="#000" stroke-width="1.3" />
<line x1="91.88" y1="158.2" x2="91.88" y2="161.8" stroke="#000" stroke-width="1.3" />
<line x1="91.88" y1="374.9" x2="91.88" y2="378.5" stroke="#000" stroke-width="1.3" />
<line x1="97.25" y1="158.2" x2="97.25" y2="161.8" stroke="#000" stroke-width="1.3" />
<line x1="97.25" y1="374.9" x2="97.25" y2="378.5" stroke="#000" stroke-width="1.3" />
<line x1="102.62" y1="158.2" x2="102.62" y2="165.2" stroke="#000" stroke-width="1.3" />
<line x1="102.62" y1="374.9" x2="102.62" y2="381.7" stroke="#000" stroke-width="1.3" />
<line x1="107.99" y1="158.2" x2="107.99" y2="161.8" stroke="#000" stroke-width="1.3" />
<line x1="107.99" y1="374.9" x2="107.99" y2="378.5" stroke="#000" stroke-width="1.3" />
<line x1="113.36" y1="158.2" x2="113.36" y2="161.8" stroke="#000" stroke-width="1.3" />
<line x1="113.36" y1="374.9" x2="113.36" y2="378.5" stroke="#000" stroke-width="1.3" />
<line x1="118.74" y1="158.2" x2="118.74" y2="161.8" stroke="#000" stroke-width="1.3" />
<line x1="118.74" y1="374.9" x2="118.74" y2="378.5" stroke="#000" stroke-width="1.3" />
<line x1="124.11" y1="158.2" x2="124.11" y2="161.8" stroke="#000" stroke-width="1.3" />
<line x1="124.11" y1="374.9" x2="124.11" y2="378.5" stroke="#000" stroke-width="1.3" />
<line x1="129.48" y1="158.2" x2="129.48" y2="165.2" stroke="#000" stroke-width="1.3" />
<line x1="129.48" y1="374.9" x2="129.48" y2="381.7" stroke="#000" stroke-width="1.3" />
<line x1="134.85" y1="158.2" x2="134.85" y2="161.8" stroke="#000" stroke-width="1.3" />
<line x1="134.85" y1="374.9" x2="134.85" y2="378.5" stroke="#000" stroke-width="1.3" />
<line x1="140.22" y1="158.2" x2="140.22" y2="161.8" stroke="#000" stroke-width="1.3" />
<line x1="140.22" y1="374.9" x2="140.22" y2="378.5" stroke="#000" stroke-width="1.3" />
<line x1="145.6" y1="158.2" x2="145.6" y2="161.8" stroke="#000" stroke-width="1.3" />
<line x1="145.6" y1="374.9" x2="145.6" y2="378.5" stroke="#000" stroke-width="1.3" />
<line x1="150.97" y1="158.2" x2="150.97" y2="161.8" stroke="#000" stroke-width="1.3" />
<line x1="150.97" y1="374.9" x2="150.97" y2="378.5" stroke="#000" stroke-width="1.3" />
<line x1="156.34" y1="158.2" x2="156.34" y2="165.2" stroke="#000" stroke-width="1.3" />
<line x1="156.34" y1="374.9" x2="156.34" y2="381.7" stroke="#000" stroke-width="1.3" />
<line x1="161.71" y1="158.2" x2="161.71" y2="161.8" stroke="#000" stroke-width="1.3" />
<line x1="161.71" y1="374.9" x2="161.71" y2="378.5" stroke="#000" stroke-width="1.3" />
<line x1="167.08" y1="158.2" x2="167.08" y2="161.8" stroke="#000" stroke-width="1.3" />
<line x1="167.08" y1="374.9" x2="167.08" y2="378.5" stroke="#000" stroke-width="1.3" />
<line x1="172.46" y1="158.2" x2="172.46" y2="161.8" stroke="#000" stroke-width="1.3" />
<line x1="172.46" y1="374.9" x2="172.46" y2="378.5" stroke="#000" stroke-width="1.3" />
<line x1="177.83" y1="158.2" x2="177.83" y2="161.8" stroke="#000" stroke-width="1.3" />
<line x1="177.83" y1="374.9" x2="177.83" y2="378.5" stroke="#000" stroke-width="1.3" />
<line x1="183.2" y1="158.2" x2="183.2" y2="165.2" stroke="#000" stroke-width="1.3" />
<line x1="183.2" y1="374.9" x2="183.2" y2="381.7" stroke="#000" stroke-width="1.3" />
<line x1="188.57" y1="158.2" x2="188.57" y2="161.8" stroke="#000" stroke-width="1.3" />
<line x1="188.57" y1="374.9" x2="188.57" y2="378.5" stroke="#000" stroke-width="1.3" />
<line x1="193.94" y1="158.2" x2="193.94" y2="161.8" stroke="#000" stroke-width="1.3" />
<line x1="193.94" y1="374.9" x2="193.94" y2="378.5" stroke="#000" stroke-width="1.3" />
<line x1="199.32" y1="158.2" x2="199.32" y2="161.8" stroke="#000" stroke-width="1.3" />
<line x1="199.32" y1="374.9" x2="199.32" y2="378.5" stroke="#000" stroke-width="1.3" />
<line x1="204.69" y1="158.2" x2="204.69" y2="161.8" stroke="#000" stroke-width="1.3" />
<line x1="204.69" y1="374.9" x2="204.69" y2="378.5" stroke="#000" stroke-width="1.3" />
<line x1="210.06" y1="158.2" x2="210.06" y2="165.2" stroke="#000" stroke-width="1.3" />
<line x1="210.06" y1="374.9" x2="210.06" y2="381.7" stroke="#000" stroke-width="1.3" />
<line x1="215.43" y1="158.2" x2="215.43" y2="161.8" stroke="#000" stroke-width="1.3" />
<line x1="215.43" y1="374.9" x2="215.43" y2="378.5" stroke="#000" stroke-width="1.3" />
<line x1="220.8" y1="158.2" x2="220.8" y2="161.8" stroke="#000" stroke-width="1.3" />
<line x1="220.8" y1="374.9" x2="220.8" y2="378.5" stroke="#000" stroke-width="1.3" />
<line x1="226.18" y1="158.2" x2="226.18" y2="161.8" stroke="#000" stroke-width="1.3" />
<line x1="226.18" y1="374.9" x2="226.18" y2="378.5" stroke="#000" stroke-width="1.3" />
<line x1="231.55" y1="158.2" x2="231.55" y2="161.8" stroke="#000" stroke-width="1.3" />
<line x1="231.55" y1="374.9" x2="231.55" y2="378.5" stroke="#000" stroke-width="1.3" />
<line x1="236.92" y1="158.2" x2="236.92" y2="165.2" stroke="#000" stroke-width="1.3" />
<line x1="236.92" y1="374.9" x2="236.92" y2="381.7" stroke="#000" stroke-width="1.3" />
<line x1="242.29" y1="158.2" x2="242.29" y2="161.8" stroke="#000" stroke-width="1.3" />
<line x1="242.29" y1="374.9" x2="242.29" y2="378.5" stroke="#000" stroke-width="1.3" />
<line x1="247.66" y1="158.2" x2="247.66" y2="161.8" stroke="#000" stroke-width="1.3" />
<line x1="247.66" y1="374.9" x2="247.66" y2="378.5" stroke="#000" stroke-width="1.3" />
<line x1="253.04" y1="158.2" x2="253.04" y2="161.8" stroke="#000" stroke-width="1.3" />
<line x1="253.04" y1="374.9" x2="253.04" y2="378.5" stroke="#000" stroke-width="1.3" />
<line x1="258.41" y1="158.2" x2="258.41" y2="161.8" stroke="#000" stroke-width="1.3" />
<line x1="258.41" y1="374.9" x2="258.41" y2="378.5" stroke="#000" stroke-width="1.3" />
<line x1="263.78" y1="158.2" x2="263.78" y2="165.2" stroke="#000" stroke-width="1.3" />
<line x1="263.78" y1="374.9" x2="263.78" y2="381.7" stroke="#000" stroke-width="1.3" />
<line x1="269.15" y1="158.2" x2="269.15" y2="161.8" stroke="#000" stroke-width="1.3" />
<line x1="269.15" y1="374.9" x2="269.15" y2="378.5" stroke="#000" stroke-width="1.3" />
<line x1="274.52" y1="158.2" x2="274.52" y2="161.8" stroke="#000" stroke-width="1.3" />
<line x1="274.52" y1="374.9" x2="274.52" y2="378.5" stroke="#000" stroke-width="1.3" />
<line x1="279.9" y1="158.2" x2="279.9" y2="161.8" stroke="#000" stroke-width="1.3" />
<line x1="279.9" y1="374.9" x2="279.9" y2="378.5" stroke="#000" stroke-width="1.3" />
<line x1="285.27" y1="158.2" x2="285.27" y2="161.8" stroke="#000" stroke-width="1.3" />
<line x1="285.27" y1="374.9" x2="285.27" y2="378.5" stroke="#000" stroke-width="1.3" />
<line x1="290.64" y1="158.2" x2="290.64" y2="165.2" stroke="#000" stroke-width="1.3" />
<line x1="290.64" y1="374.9" x2="290.64" y2="381.7" stroke="#000" stroke-width="1.3" />
<line x1="296.01" y1="158.2" x2="296.01" y2="161.8" stroke="#000" stroke-width="1.3" />
<line x1="296.01" y1="374.9" x2="296.01" y2="378.5" stroke="#000" stroke-width="1.3" />
<line x1="301.38" y1="158.2" x2="301.38" y2="161.8" stroke="#000" stroke-width="1.3" />
<line x1="301.38" y1="374.9" x2="301.38" y2="378.5" stroke="#000" stroke-width="1.3" />
<line x1="306.76" y1="158.2" x2="306.76" y2="161.8" stroke="#000" stroke-width="1.3" />
<line x1="306.76" y1="374.9" x2="306.76" y2="378.5" stroke="#000" stroke-width="1.3" />
<line x1="312.13" y1="158.2" x2="312.13" y2="161.8" stroke="#000" stroke-width="1.3" />
<line x1="312.13" y1="374.9" x2="312.13" y2="378.5" stroke="#000" stroke-width="1.3" />
<line x1="317.5" y1="158.2" x2="317.5" y2="165.2" stroke="#000" stroke-width="1.3" />
<line x1="317.5" y1="374.9" x2="317.5" y2="381.7" stroke="#000" stroke-width="1.3" />
<line x1="48.9" y1="374.9" x2="56.5" y2="374.9" stroke="#000" stroke-width="1.3" />
<line x1="48.9" y1="366.57" x2="52.8" y2="366.57" stroke="#000" stroke-width="1.3" />
<line x1="48.9" y1="358.23" x2="56.5" y2="358.23" stroke="#000" stroke-width="1.3" />
<line x1="48.9" y1="349.9" x2="52.8" y2="349.9" stroke="#000" stroke-width="1.3" />
<line x1="48.9" y1="341.56" x2="56.5" y2="341.56" stroke="#000" stroke-width="1.3" />
<line x1="48.9" y1="333.23" x2="52.8" y2="333.23" stroke="#000" stroke-width="1.3" />
<line x1="48.9" y1="324.89" x2="56.5" y2="324.89" stroke="#000" stroke-width="1.3" />
<line x1="48.9" y1="316.56" x2="52.8" y2="316.56" stroke="#000" stroke-width="1.3" />
<line x1="48.9" y1="308.22" x2="56.5" y2="308.22" stroke="#000" stroke-width="1.3" />
<line x1="48.9" y1="299.89" x2="52.8" y2="299.89" stroke="#000" stroke-width="1.3" />
<line x1="48.9" y1="291.55" x2="56.5" y2="291.55" stroke="#000" stroke-width="1.3" />
<line x1="48.9" y1="283.22" x2="52.8" y2="283.22" stroke="#000" stroke-width="1.3" />
<line x1="48.9" y1="274.88" x2="56.5" y2="274.88" stroke="#000" stroke-width="1.3" />
<line x1="48.9" y1="266.55" x2="52.8" y2="266.55" stroke="#000" stroke-width="1.3" />
<line x1="48.9" y1="258.22" x2="56.5" y2="258.22" stroke="#000" stroke-width="1.3" />
<line x1="48.9" y1="249.88" x2="52.8" y2="249.88" stroke="#000" stroke-width="1.3" />
<line x1="48.9" y1="241.55" x2="56.5" y2="241.55" stroke="#000" stroke-width="1.3" />
<line x1="48.9" y1="233.21" x2="52.8" y2="233.21" stroke="#000" stroke-width="1.3" />
<line x1="48.9" y1="224.88" x2="56.5" y2="224.88" stroke="#000" stroke-width="1.3" />
<line x1="48.9" y1="216.54" x2="52.8" y2="216.54" stroke="#000" stroke-width="1.3" />
<line x1="48.9" y1="208.21" x2="56.5" y2="208.21" stroke="#000" stroke-width="1.3" />
<line x1="48.9" y1="199.87" x2="52.8" y2="199.87" stroke="#000" stroke-width="1.3" />
<line x1="48.9" y1="191.54" x2="56.5" y2="191.54" stroke="#000" stroke-width="1.3" />
<line x1="48.9" y1="183.2" x2="52.8" y2="183.2" stroke="#000" stroke-width="1.3" />
<line x1="48.9" y1="174.87" x2="56.5" y2="174.87" stroke="#000" stroke-width="1.3" />
<line x1="48.9" y1="166.53" x2="52.8" y2="166.53" stroke="#000" stroke-width="1.3" />
<line x1="48.9" y1="158.2" x2="56.5" y2="158.2" stroke="#000" stroke-width="1.3" />
<text x="40.4" y="378.48" font-size="10" fill="#111" text-anchor="end" font-weight="bold" font-family="'Liberation Sans', Arial, sans-serif" >120</text>
<text x="40.4" y="361.81" font-size="10" fill="#111" text-anchor="end" font-weight="bold" font-family="'Liberation Sans', Arial, sans-serif" >130</text>
<text x="40.4" y="345.14" font-size="10" fill="#111" text-anchor="end" font-weight="bold" font-family="'Liberation Sans', Arial, sans-serif" >140</text>
<text x="40.4" y="328.47" font-size="10" fill="#111" text-anchor="end" font-weight="bold" font-family="'Liberation Sans', Arial, sans-serif" >150</text>
<text x="40.4" y="311.8" font-size="10" fill="#111" text-anchor="end" font-weight="bold" font-family="'Liberation Sans', Arial, sans-serif" >160</text>
<text x="40.4" y="295.13" font-size="10" fill="#111" text-anchor="end" font-weight="bold" font-family="'Liberation Sans', Arial, sans-serif" >170</text>
<text x="40.4" y="278.46" font-size="10" fill="#111" text-anchor="end" font-weight="bold" font-family="'Liberation Sans', Arial, sans-serif" >180</text>
<text x="40.4" y="261.8" font-size="10" fill="#111" text-anchor="end" font-weight="bold" font-family="'Liberation Sans', Arial, sans-serif" >190</text>
<text x="40.4" y="245.13" font-size="10" fill="#111" text-anchor="end" font-weight="bold" font-family="'Liberation Sans', Arial, sans-serif" >200</text>
<text x="40.4" y="228.46" font-size="10" fill="#111" text-anchor="end" font-weight="bold" font-family="'Liberation Sans', Arial, sans-serif" >210</text>
<text x="40.4" y="211.79" font-size="10" fill="#111" text-anchor="end" font-weight="bold" font-family="'Liberation Sans', Arial, sans-serif" >220</text>
<text x="40.4" y="195.12" font-size="10" fill="#111" text-anchor="end" font-weight="bold" font-family="'Liberation Sans', Arial, sans-serif" >230</text>
<text x="40.4" y="178.45" font-size="10" fill="#111" text-anchor="end" font-weight="bold" font-family="'Liberation Sans', Arial, sans-serif" >240</text>
<text x="40.4" y="161.78" font-size="10" fill="#111" text-anchor="end" font-weight="bold" font-family="'Liberation Sans', Arial, sans-serif" >250</text>
<text x="48.9" y="396.18" font-size="10" fill="#111" text-anchor="middle" font-weight="bold" font-family="'Liberation Sans', Arial, sans-serif" >2000</text>
<text x="75.76" y="396.18" font-size="10" fill="#111" text-anchor="middle" font-weight="bold" font-family="'Liberation Sans', Arial, sans-serif" >2100</text>
<text x="102.62" y="396.18" font-size="10" fill="#111" text-anchor="middle" font-weight="bold" font-family="'Liberation Sans', Arial, sans-serif" >2200</text>
<text x="129.48" y="396.18" font-size="10" fill="#111" text-anchor="middle" font-weight="bold" font-family="'Liberation Sans', Arial, sans-serif" >2300</text>
<text x="156.34" y="396.18" font-size="10" fill="#111" text-anchor="middle" font-weight="bold" font-family="'Liberation Sans', Arial, sans-serif" >2400</text>
<text x="183.2" y="396.18" font-size="10" fill="#111" text-anchor="middle" font-weight="bold" font-family="'Liberation Sans', Arial, sans-serif" >2500</text>
<text x="210.06" y="396.18" font-size="10" fill="#111" text-anchor="middle" font-weight="bold" font-family="'Liberation Sans', Arial, sans-serif" >2600</text>
<text x="236.92" y="396.18" font-size="10" fill="#111" text-anchor="middle" font-weight="bold" font-family="'Liberation Sans', Arial, sans-serif" >2700</text>
<text x="263.78" y="396.18" font-size="10" fill="#111" text-anchor="middle" font-weight="bold" font-family="'Liberation Sans', Arial, sans-serif" >2800</text>
<text x="290.64" y="396.18" font-size="10" fill="#111" text-anchor="middle" font-weight="bold" font-family="'Liberation Sans', Arial, sans-serif" >2900</text>
<text x="317.5" y="396.18" font-size="10" fill="#111" text-anchor="middle" font-weight="bold" font-family="'Liberation Sans', Arial, sans-serif" >3000</text>
<text x="15.1" y="272.2" font-size="14" fill="#111" text-anchor="middle" font-weight="bold" font-family="'Liberation Sans', Arial, sans-serif" transform="rotate(-90 15.1 272.2)" >Resistance (&#937;)</text>
<text x="187.7" y="412.7" font-size="13.3" fill="#111" text-anchor="middle" font-weight="bold" font-family="'Liberation Sans', Arial, sans-serif" >Time (s)</text>
<text x="311.9" y="202" font-size="11.6" fill="#d62e4c" text-anchor="end" font-weight="bold" font-family="'Liberation Sans', Arial, sans-serif"  textLength="39.6" lengthAdjust="spacingAndGlyphs">MI-250</text>
<text x="311.6" y="370.9" font-size="12" fill="#f47d62" text-anchor="end" font-weight="bold" font-family="'Liberation Sans', Arial, sans-serif" >MI@FTO</text>
<text x="72.7" y="188.5" font-size="13" fill="#111" text-anchor="middle" font-weight="bold" font-family="'Liberation Sans', Arial, sans-serif" >t</text>
<text x="78.5" y="191.8" font-size="8" fill="#222" text-anchor="start" font-weight="bold" font-family="'Liberation Sans', Arial, sans-serif" font-style="italic" >response</text>
<text x="176" y="188.5" font-size="13" fill="#111" text-anchor="middle" font-weight="bold" font-family="'Liberation Sans', Arial, sans-serif" >t</text>
<text x="181.6" y="191.8" font-size="8.1" fill="#222" text-anchor="start" font-weight="bold" font-family="'Liberation Sans', Arial, sans-serif" font-style="italic" >recovery</text>
<text x="67.3" y="369.6" font-size="13" fill="#111" text-anchor="middle" font-weight="bold" font-family="'Liberation Sans', Arial, sans-serif" >t</text>
<text x="73.4" y="372.7" font-size="8" fill="#222" text-anchor="start" font-weight="bold" font-family="'Liberation Sans', Arial, sans-serif" font-style="italic" >response</text>
<text x="150.3" y="369.6" font-size="13" fill="#111" text-anchor="middle" font-weight="bold" font-family="'Liberation Sans', Arial, sans-serif" >t</text>
<text x="157.4" y="372.7" font-size="8.1" fill="#222" text-anchor="start" font-weight="bold" font-family="'Liberation Sans', Arial, sans-serif" font-style="italic" >recovery</text>
<text x="170" y="272.8" font-size="10" fill="#111" text-anchor="start" font-weight="bold" font-family="'Liberation Sans', Arial, sans-serif" >90%</text>
<text x="170" y="337" font-size="10" fill="#111" text-anchor="start" font-weight="bold" font-family="'Liberation Sans', Arial, sans-serif" >90%</text>
<text x="240.5" y="226.1" font-size="10" fill="#111" text-anchor="start" font-weight="bold" font-family="'Liberation Sans', Arial, sans-serif" >10%</text>
<text x="240.7" y="350.1" font-size="10" fill="#111" text-anchor="start" font-weight="bold" font-family="'Liberation Sans', Arial, sans-serif" >10%</text>
<line x1="91.6" y1="197.5" x2="100.95" y2="207.42" stroke="#111" stroke-width="1.2" />
<path d="M96.73 206.73 L101.5 208 M100.51 203.16 L101.5 208" stroke="#111" stroke-width="1.2" fill="none" stroke-linecap="round"/>
<line x1="179.5" y1="196" x2="172.21" y2="208.31" stroke="#111" stroke-width="1.2" />
<path d="M171.7 204.06 L171.8 209 M176.18 206.71 L171.8 209" stroke="#111" stroke-width="1.2" fill="none" stroke-linecap="round"/>
<line x1="96" y1="364.2" x2="87.32" y2="357.2" stroke="#111" stroke-width="1.2" />
<path d="M91.6 357.31 L86.7 356.7 M88.34 361.36 L86.7 356.7" stroke="#111" stroke-width="1.2" fill="none" stroke-linecap="round"/>
<line x1="192.6" y1="367.6" x2="198.96" y2="358.07" stroke="#111" stroke-width="1.2" />
<path d="M199.23 362.34 L199.4 357.4 M194.91 359.45 L199.4 357.4" stroke="#111" stroke-width="1.2" fill="none" stroke-linecap="round"/>
<text x="115.8" y="298" font-size="8.6" fill="#3a78d4" text-anchor="middle" font-weight="bold" font-family="'Liberation Sans', Arial, sans-serif" >NH<tspan font-size="6" dy="2">3</tspan><tspan dy="-2"> gas</tspan></text>
<text x="115.8" y="308.5" font-size="8.6" fill="#3a78d4" text-anchor="middle" font-weight="bold" font-family="'Liberation Sans', Arial, sans-serif" >flow rate</text>
<text x="115.8" y="317.6" font-size="8.6" fill="#3a78d4" text-anchor="middle" font-weight="bold" font-family="'Liberation Sans', Arial, sans-serif" >35 sccm</text>
<text x="168.2" y="434.6" font-size="12.5" fill="#111" text-anchor="middle" font-weight="bold" font-family="'Liberation Serif', 'Times New Roman', serif" ><tspan font-weight="normal">(</tspan>d<tspan font-weight="normal">)</tspan></text>
<defs><radialGradient id="nhg" cx="0.45" cy="0.4" r="0.65"><stop offset="0" stop-color="#c8d8f2"/><stop offset="1" stop-color="#a4c4ea"/></radialGradient><radialGradient id="wg" cx="0.4" cy="0.35" r="0.7"><stop offset="0" stop-color="#ffffff"/><stop offset="1" stop-color="#dcdcdc"/></radialGradient><radialGradient id="og" cx="0.5" cy="0.5" r="0.5"><stop offset="0" stop-color="#f39058" stop-opacity="0.95"/><stop offset="0.6" stop-color="#f5a070" stop-opacity="0.6"/><stop offset="1" stop-color="#f7b58e" stop-opacity="0"/></radialGradient><radialGradient id="pg" cx="0.5" cy="0.5" r="0.5"><stop offset="0" stop-color="#f9d2bc"/><stop offset="0.55" stop-color="#fbe0d2"/><stop offset="1" stop-color="#fce6da"/></radialGradient></defs>
<text x="398.6" y="194" font-size="6.3" fill="#6f95e2" text-anchor="start" font-weight="bold" font-family="'Liberation Sans', Arial, sans-serif" >N<tspan fill="#cfcfcf" font-weight="normal">H<tspan font-size="4" dy="1.3">3</tspan></tspan></text>
<circle cx="398.5" cy="207.1" r="3" fill="url(#wg)" stroke="#b0b0b0" stroke-width="0.6"/>
<circle cx="408.1" cy="203.1" r="3" fill="url(#wg)" stroke="#b0b0b0" stroke-width="0.6"/>
<circle cx="402.2" cy="203.1" r="3.5" fill="url(#wg)" stroke="#b0b0b0" stroke-width="0.6"/>
<circle cx="405.3" cy="211.6" r="5.6" fill="url(#nhg)"/>
<path d="M414.6 212 Q416 205.5 421 204.8" stroke="#6ea856" stroke-width="2" fill="none" stroke-linecap="round"/>
<path d="M424.2 205.2 L428.8 210.2 M423.8 210.8 L428.8 210.2" stroke="#7cb862" stroke-width="1.7" fill="none" stroke-linecap="round"/>
<path d="M416.4 227.2 Q412 231.8 407.5 230.5" stroke="#d8ac28" stroke-width="1.8" fill="none" stroke-linecap="round"/>
<path d="M404.6 227.5 L403.8 221.8 M403.8 221.8 L407.8 223.8 M403.8 221.8 L401.8 226" stroke="#f2c230" stroke-width="1.4" fill="none" stroke-linecap="round"/>
<text x="372.3" y="243.1" font-size="7.5" fill="#86a4ea" text-anchor="start" font-weight="normal" font-family="'Liberation Sans', Arial, sans-serif"  textLength="42.6" lengthAdjust="spacingAndGlyphs">N<tspan font-size="4.8" dy="1.4">2</tspan><tspan dy="-1.4"> condition</tspan></text>
<text x="354.3" y="248.4" font-size="9.8" fill="#111" text-anchor="start" font-weight="bold" font-family="'Liberation Sans', Arial, sans-serif" font-style="italic" >E</text>
<text x="360.6" y="250.2" font-size="5.8" fill="#111" text-anchor="start" font-weight="bold" font-family="'Liberation Sans', Arial, sans-serif" font-style="italic" >v</text>
<line x1="366" y1="247.3" x2="522" y2="247.3" stroke="#262626" stroke-width="1.25" stroke-dasharray="2.6 1.9" />
<text x="392.6" y="257.5" font-size="6.9" fill="#111" text-anchor="start" font-weight="bold" font-family="'Liberation Sans', Arial, sans-serif" >Au</text>
<line x1="404.1" y1="255.4" x2="420" y2="255.4" stroke="#c99a1c" stroke-width="1.9" />
<line x1="517" y1="255.9" x2="535.3" y2="255.9" stroke="#c99a1c" stroke-width="1.9" />
<text x="538.1" y="257.4" font-size="6.9" fill="#111" text-anchor="start" font-weight="bold" font-family="'Liberation Sans', Arial, sans-serif" >Au</text>
<path d="M459.8 213.8 Q464.7 214.5 466.5 219 Q469 224.5 476.7 225.3" stroke="#b3dca2" stroke-width="0.9" fill="none" />
<path d="M474.5 223.8 L477 225.3 L474.7 226.7" stroke="#b3dca2" stroke-width="0.7" fill="none" />
<path d="M521.8 247.3 Q525 247.6 527 250 Q529.5 253 533.2 252.6" stroke="#b3dca2" stroke-width="0.9" fill="none" />
<path d="M476.4 280.2 Q471.5 279 470.5 275 Q469 270 461.5 268.3" stroke="#f5dc8c" stroke-width="0.9" fill="none" />
<path d="M463.3 266.5 L461.2 268.3 L463.6 269.7" stroke="#f5dc8c" stroke-width="0.7" fill="none" />
<circle cx="444.5" cy="242.5" r="27.3" fill="url(#pg)" stroke="#d9a084" stroke-width="0.8" />
<circle cx="495.2" cy="250.8" r="23.8" fill="#fdf0d6" stroke="#e0bc74" stroke-width="0.9" />
<clipPath id="mc"><circle cx="495.2" cy="250.8" r="23.2"/></clipPath>
<g clip-path="url(#mc)">
<circle cx="494.4" cy="247.87" r="5.4" fill="#fde6b6" stroke="none" stroke-width="0.5" />
<circle cx="506.1" cy="241.37" r="5.4" fill="#fde6b6" stroke="none" stroke-width="0.5" />
<circle cx="506.1" cy="254.17" r="5.4" fill="#fde6b6" stroke="none" stroke-width="0.5" />
<circle cx="517.8" cy="247.67" r="5.4" fill="#fde6b6" stroke="none" stroke-width="0.5" />
<circle cx="517.8" cy="234.87" r="5.4" fill="#fde6b6" stroke="none" stroke-width="0.5" />
<circle cx="529.5" cy="241.17" r="5.4" fill="#fde6b6" stroke="none" stroke-width="0.5" />
<circle cx="529.5" cy="253.97" r="5.4" fill="#fde6b6" stroke="none" stroke-width="0.5" />
<circle cx="517.8" cy="260.47" r="5.4" fill="#fde6b6" stroke="none" stroke-width="0.5" />
<circle cx="494.4" cy="260.67" r="5.4" fill="#fde6b6" stroke="none" stroke-width="0.5" />
<circle cx="506.1" cy="266.97" r="5.4" fill="#fde6b6" stroke="none" stroke-width="0.5" />
<circle cx="529.5" cy="228.37" r="5.4" fill="#fde6b6" stroke="none" stroke-width="0.5" />
<circle cx="541.2" cy="247.47" r="5.4" fill="#fde6b6" stroke="none" stroke-width="0.5" />
<circle cx="541.2" cy="234.67" r="5.4" fill="#fde6b6" stroke="none" stroke-width="0.5" />
<circle cx="529.5" cy="266.77" r="5.4" fill="#fde6b6" stroke="none" stroke-width="0.5" />
<circle cx="517.8" cy="273.27" r="5.4" fill="#fde6b6" stroke="none" stroke-width="0.5" />
<line x1="486.6" y1="247.93" x2="478.8" y2="248" stroke="#45a8c2" stroke-width="1.9" />
<line x1="486.6" y1="247.93" x2="490.5" y2="241.5" stroke="#45a8c2" stroke-width="1.9" />
<line x1="486.6" y1="247.93" x2="490.5" y2="254.3" stroke="#45a8c2" stroke-width="1.9" />
<circle cx="486.6" cy="247.93" r="1.3" fill="#3590aa" stroke="none" stroke-width="0.5" />
<line x1="498.3" y1="241.43" x2="490.5" y2="241.5" stroke="#45a8c2" stroke-width="1.9" />
<line x1="498.3" y1="241.43" x2="502.2" y2="235" stroke="#45a8c2" stroke-width="1.9" />
<line x1="498.3" y1="241.43" x2="502.2" y2="247.8" stroke="#45a8c2" stroke-width="1.9" />
<circle cx="498.3" cy="241.43" r="1.3" fill="#3590aa" stroke="none" stroke-width="0.5" />
<line x1="498.3" y1="254.23" x2="490.5" y2="254.3" stroke="#45a8c2" stroke-width="1.9" />
<line x1="498.3" y1="254.23" x2="502.2" y2="247.8" stroke="#45a8c2" stroke-width="1.9" />
<line x1="498.3" y1="254.23" x2="502.2" y2="260.6" stroke="#45a8c2" stroke-width="1.9" />
<circle cx="498.3" cy="254.23" r="1.3" fill="#3590aa" stroke="none" stroke-width="0.5" />
<line x1="510" y1="247.73" x2="502.2" y2="247.8" stroke="#45a8c2" stroke-width="1.9" />
<line x1="510" y1="247.73" x2="513.9" y2="241.3" stroke="#45a8c2" stroke-width="1.9" />
<line x1="510" y1="247.73" x2="513.9" y2="254.1" stroke="#45a8c2" stroke-width="1.9" />
<circle cx="510" cy="247.73" r="1.3" fill="#3590aa" stroke="none" stroke-width="0.5" />
<line x1="510" y1="234.93" x2="502.2" y2="235" stroke="#45a8c2" stroke-width="1.9" />
<line x1="510" y1="234.93" x2="513.9" y2="228.5" stroke="#45a8c2" stroke-width="1.9" />
<line x1="510" y1="234.93" x2="513.9" y2="241.3" stroke="#45a8c2" stroke-width="1.9" />
<circle cx="510" cy="234.93" r="1.3" fill="#3590aa" stroke="none" stroke-width="0.5" />
<line x1="521.7" y1="241.23" x2="513.9" y2="241.3" stroke="#45a8c2" stroke-width="1.9" />
<line x1="521.7" y1="241.23" x2="525.6" y2="234.8" stroke="#45a8c2" stroke-width="1.9" />
<line x1="521.7" y1="241.23" x2="525.6" y2="247.6" stroke="#45a8c2" stroke-width="1.9" />
<circle cx="521.7" cy="241.23" r="1.3" fill="#3590aa" stroke="none" stroke-width="0.5" />
<line x1="521.7" y1="254.03" x2="513.9" y2="254.1" stroke="#45a8c2" stroke-width="1.9" />
<line x1="521.7" y1="254.03" x2="525.6" y2="247.6" stroke="#45a8c2" stroke-width="1.9" />
<line x1="521.7" y1="254.03" x2="525.6" y2="260.4" stroke="#45a8c2" stroke-width="1.9" />
<circle cx="521.7" cy="254.03" r="1.3" fill="#3590aa" stroke="none" stroke-width="0.5" />
<line x1="510" y1="260.53" x2="502.2" y2="260.6" stroke="#45a8c2" stroke-width="1.9" />
<line x1="510" y1="260.53" x2="513.9" y2="254.1" stroke="#45a8c2" stroke-width="1.9" />
<line x1="510" y1="260.53" x2="513.9" y2="266.9" stroke="#45a8c2" stroke-width="1.9" />
<circle cx="510" cy="260.53" r="1.3" fill="#3590aa" stroke="none" stroke-width="0.5" />
<line x1="486.6" y1="260.73" x2="478.8" y2="260.8" stroke="#45a8c2" stroke-width="1.9" />
<line x1="486.6" y1="260.73" x2="490.5" y2="254.3" stroke="#45a8c2" stroke-width="1.9" />
<line x1="486.6" y1="260.73" x2="490.5" y2="267.1" stroke="#45a8c2" stroke-width="1.9" />
<circle cx="486.6" cy="260.73" r="1.3" fill="#3590aa" stroke="none" stroke-width="0.5" />
<line x1="498.3" y1="267.03" x2="490.5" y2="267.1" stroke="#45a8c2" stroke-width="1.9" />
<line x1="498.3" y1="267.03" x2="502.2" y2="260.6" stroke="#45a8c2" stroke-width="1.9" />
<line x1="498.3" y1="267.03" x2="502.2" y2="273.4" stroke="#45a8c2" stroke-width="1.9" />
<circle cx="498.3" cy="267.03" r="1.3" fill="#3590aa" stroke="none" stroke-width="0.5" />
<line x1="521.7" y1="228.43" x2="513.9" y2="228.5" stroke="#45a8c2" stroke-width="1.9" />
<line x1="521.7" y1="228.43" x2="525.6" y2="222" stroke="#45a8c2" stroke-width="1.9" />
<line x1="521.7" y1="228.43" x2="525.6" y2="234.8" stroke="#45a8c2" stroke-width="1.9" />
<circle cx="521.7" cy="228.43" r="1.3" fill="#3590aa" stroke="none" stroke-width="0.5" />
<line x1="510" y1="273.33" x2="502.2" y2="273.4" stroke="#45a8c2" stroke-width="1.9" />
<line x1="510" y1="273.33" x2="513.9" y2="266.9" stroke="#45a8c2" stroke-width="1.9" />
<line x1="510" y1="273.33" x2="513.9" y2="279.7" stroke="#45a8c2" stroke-width="1.9" />
<circle cx="510" cy="273.33" r="1.3" fill="#3590aa" stroke="none" stroke-width="0.5" />
<circle cx="478.8" cy="248" r="2.3" fill="#f4dc22" stroke="#d2b410" stroke-width="0.4" />
<circle cx="490.5" cy="241.5" r="2.3" fill="#f4dc22" stroke="#d2b410" stroke-width="0.4" />
<circle cx="490.5" cy="254.3" r="2.3" fill="#f4dc22" stroke="#d2b410" stroke-width="0.4" />
<circle cx="502.2" cy="247.8" r="2.3" fill="#f4dc22" stroke="#d2b410" stroke-width="0.4" />
<circle cx="502.2" cy="235" r="2.3" fill="#f4dc22" stroke="#d2b410" stroke-width="0.4" />
<circle cx="513.9" cy="241.3" r="2.3" fill="#f4dc22" stroke="#d2b410" stroke-width="0.4" />
<circle cx="513.9" cy="254.1" r="2.3" fill="#f4dc22" stroke="#d2b410" stroke-width="0.4" />
<circle cx="502.2" cy="260.6" r="2.3" fill="#f4dc22" stroke="#d2b410" stroke-width="0.4" />
<circle cx="478.8" cy="260.8" r="2.3" fill="#f4dc22" stroke="#d2b410" stroke-width="0.4" />
<circle cx="490.5" cy="267.1" r="2.3" fill="#f4dc22" stroke="#d2b410" stroke-width="0.4" />
<circle cx="513.9" cy="228.5" r="2.3" fill="#f4dc22" stroke="#d2b410" stroke-width="0.4" />
<circle cx="525.6" cy="247.6" r="2.3" fill="#f4dc22" stroke="#d2b410" stroke-width="0.4" />
<circle cx="525.6" cy="234.8" r="2.3" fill="#f4dc22" stroke="#d2b410" stroke-width="0.4" />
<circle cx="513.9" cy="266.9" r="2.3" fill="#f4dc22" stroke="#d2b410" stroke-width="0.4" />
<circle cx="502.2" cy="273.4" r="2.3" fill="#f4dc22" stroke="#d2b410" stroke-width="0.4" />
</g>
<circle cx="495.2" cy="250.8" r="23.8" fill="none" stroke="#e0bc74" stroke-width="0.9" />
<circle cx="478.8" cy="237.8" r="1.9" fill="#f1d626" stroke="#c9a80e" stroke-width="0.4" />
<circle cx="478.2" cy="243.5" r="1" fill="#1f6f88" stroke="none" stroke-width="0.5" />
<text x="482" y="239" font-size="2.8" fill="#555" text-anchor="start" font-weight="normal" font-family="'Liberation Sans', Arial, sans-serif" >S</text>
<text x="482" y="244.6" font-size="2.8" fill="#555" text-anchor="start" font-weight="normal" font-family="'Liberation Sans', Arial, sans-serif" >Mo</text>
<ellipse cx="444.5" cy="242.5" rx="13" ry="9" fill="url(#og)"/>
<line x1="427.7" y1="226.3" x2="437.44" y2="235.7" stroke="#4f7fd0" stroke-width="0.9" />
<line x1="462.8" y1="226.3" x2="452.19" y2="235.7" stroke="#4f7fd0" stroke-width="0.9" />
<line x1="425.7" y1="259" x2="436.6" y2="249.43" stroke="#4f7fd0" stroke-width="0.9" />
<line x1="461.2" y1="259" x2="451.51" y2="249.43" stroke="#4f7fd0" stroke-width="0.9" />
<line x1="437.44" y1="235.7" x2="449.54" y2="247.36" stroke="#46c2a2" stroke-width="0.8" />
<line x1="452.19" y1="235.7" x2="439.01" y2="247.36" stroke="#46c2a2" stroke-width="0.8" />
<line x1="436.6" y1="249.43" x2="450.14" y2="237.55" stroke="#46c2a2" stroke-width="0.8" />
<line x1="451.51" y1="249.43" x2="439.49" y2="237.55" stroke="#46c2a2" stroke-width="0.8" />
<path d="M432.5 238.5 L436.5 247.5 L440.5 238.5 L444.5 247.5 L448.5 238.5 L452.5 247.5 L456.5 238.5" stroke="#46c2a2" stroke-width="0.95" fill="none" />
<path d="M433.5 247.5 L437.5 238.5 L441.5 247.5 L445.5 238.5 L449.5 247.5 L453.5 238.5 L457.5 247.5" stroke="#46c2a2" stroke-width="0.95" fill="none" />
<line x1="443.3" y1="223.7" x2="430.7" y2="247.3" stroke="#e0449e" stroke-width="0.85" />
<line x1="443.3" y1="223.7" x2="459.9" y2="247.1" stroke="#e0449e" stroke-width="0.85" />
<line x1="430.7" y1="247.3" x2="459.9" y2="247.1" stroke="#e0449e" stroke-width="0.85" />
<line x1="444.5" y1="261" x2="427.7" y2="237.7" stroke="#e0449e" stroke-width="0.85" />
<line x1="444.5" y1="261" x2="457.3" y2="237.7" stroke="#e0449e" stroke-width="0.85" />
<line x1="427.7" y1="237.7" x2="457.3" y2="237.7" stroke="#e0449e" stroke-width="0.85" />
<line x1="443.3" y1="223.7" x2="446.4" y2="233.1" stroke="#e0449e" stroke-width="0.85" />
<line x1="446.4" y1="233.1" x2="457.3" y2="237.7" stroke="#e0449e" stroke-width="0.85" />
<line x1="444.5" y1="261" x2="441.9" y2="251.9" stroke="#e0449e" stroke-width="0.85" />
<line x1="441.9" y1="251.9" x2="430.7" y2="247.3" stroke="#e0449e" stroke-width="0.85" />
<line x1="427.7" y1="237.7" x2="430.7" y2="247.3" stroke="#e0449e" stroke-width="0.85" />
<line x1="457.3" y1="237.7" x2="459.9" y2="247.1" stroke="#e0449e" stroke-width="0.85" />
<line x1="443.3" y1="223.7" x2="427.7" y2="237.7" stroke="#e0449e" stroke-width="0.85" />
<line x1="444.5" y1="261" x2="459.9" y2="247.1" stroke="#e0449e" stroke-width="0.85" />
<line x1="446.4" y1="233.1" x2="427.7" y2="237.7" stroke="#e0449e" stroke-width="0.85" />
<line x1="441.9" y1="251.9" x2="459.9" y2="247.1" stroke="#e0449e" stroke-width="0.85" />
<text x="438" y="237.3" font-size="3.4" fill="#2a2a2a" text-anchor="middle" font-weight="bold" font-family="'Liberation Sans', Arial, sans-serif"  stroke="#2a2a2a" stroke-width="0.15">Mo</text>
<text x="450" y="237.3" font-size="3.4" fill="#2a2a2a" text-anchor="middle" font-weight="bold" font-family="'Liberation Sans', Arial, sans-serif"  stroke="#2a2a2a" stroke-width="0.15">Mo</text>
<text x="438.5" y="250.5" font-size="3.4" fill="#2a2a2a" text-anchor="middle" font-weight="bold" font-family="'Liberation Sans', Arial, sans-serif"  stroke="#2a2a2a" stroke-width="0.15">Mo</text>
<text x="450.5" y="250.5" font-size="3.4" fill="#2a2a2a" text-anchor="middle" font-weight="bold" font-family="'Liberation Sans', Arial, sans-serif"  stroke="#2a2a2a" stroke-width="0.15">Mo</text>
<circle cx="443.3" cy="223.7" r="2.1" fill="#fbe0f0" stroke="#e0449e" stroke-width="1" />
<circle cx="444.5" cy="261" r="2.1" fill="#fbe0f0" stroke="#e0449e" stroke-width="1" />
<circle cx="427.7" cy="237.7" r="2.1" fill="#fbe0f0" stroke="#e0449e" stroke-width="1" />
<circle cx="430.7" cy="247.3" r="2.1" fill="#fbe0f0" stroke="#e0449e" stroke-width="1" />
<circle cx="457.3" cy="237.7" r="2.1" fill="#fbe0f0" stroke="#e0449e" stroke-width="1" />
<circle cx="459.9" cy="247.1" r="2.1" fill="#fbe0f0" stroke="#e0449e" stroke-width="1" />
<circle cx="446.4" cy="233.1" r="2.1" fill="#fbe0f0" stroke="#e0449e" stroke-width="1" />
<circle cx="441.9" cy="251.9" r="2.1" fill="#fbe0f0" stroke="#e0449e" stroke-width="1" />
<circle cx="427.7" cy="226.3" r="2.1" fill="#e4eefc" stroke="#4470c8" stroke-width="1" />
<circle cx="462.8" cy="226.3" r="2.1" fill="#e4eefc" stroke="#4470c8" stroke-width="1" />
<circle cx="425.7" cy="259" r="2.1" fill="#e4eefc" stroke="#4470c8" stroke-width="1" />
<circle cx="461.2" cy="259" r="2.1" fill="#e4eefc" stroke="#4470c8" stroke-width="1" />
<circle cx="439.9" cy="231.5" r="2.1" fill="#e4eefc" stroke="#4470c8" stroke-width="1" />
<circle cx="446.7" cy="253.5" r="2.1" fill="#e4eefc" stroke="#4470c8" stroke-width="1" />
<circle cx="440.2" cy="209.5" r="4.2" fill="#a9d88e" stroke="#9ccf84" stroke-width="0.5" />
<text x="439.5" y="211.3" font-size="5.6" fill="#0c120a" text-anchor="middle" font-weight="bold" font-family="'Liberation Sans', Arial, sans-serif"  stroke="#0c120a" stroke-width="0.25">e</text>
<line x1="441.5" y1="208.9" x2="443" y2="208.9" stroke="#0c120a" stroke-width="0.8" />
<circle cx="453.3" cy="211.3" r="4.2" fill="#a9d88e" stroke="#9ccf84" stroke-width="0.5" />
<text x="452.6" y="213.1" font-size="5.6" fill="#0c120a" text-anchor="middle" font-weight="bold" font-family="'Liberation Sans', Arial, sans-serif"  stroke="#0c120a" stroke-width="0.25">e</text>
<line x1="454.6" y1="210.7" x2="456.1" y2="210.7" stroke="#0c120a" stroke-width="0.8" />
<circle cx="485.2" cy="223.6" r="4.2" fill="#a9d88e" stroke="#9ccf84" stroke-width="0.5" />
<text x="484.5" y="225.4" font-size="5.6" fill="#0c120a" text-anchor="middle" font-weight="bold" font-family="'Liberation Sans', Arial, sans-serif"  stroke="#0c120a" stroke-width="0.25">e</text>
<line x1="486.5" y1="223" x2="488" y2="223" stroke="#0c120a" stroke-width="0.8" />
<circle cx="451.6" cy="273.3" r="4.1" fill="#f7cf45" stroke="#f4dc90" stroke-width="0.8" />
<text x="451.2" y="275.2" font-size="5.4" fill="#ffffff" text-anchor="middle" font-weight="bold" font-family="'Liberation Sans', Arial, sans-serif"  stroke="#ffffff" stroke-width="0.2">h</text>
<text x="453.6" y="273.2" font-size="3.4" fill="#ffffff" text-anchor="middle" font-weight="bold" font-family="'Liberation Sans', Arial, sans-serif" >+</text>
<circle cx="486.3" cy="280.6" r="4.3" fill="#f7cf45" stroke="#f4dc90" stroke-width="0.8" />
<text x="485.9" y="282.5" font-size="5.4" fill="#ffffff" text-anchor="middle" font-weight="bold" font-family="'Liberation Sans', Arial, sans-serif"  stroke="#ffffff" stroke-width="0.2">h</text>
<text x="488.3" y="280.5" font-size="3.4" fill="#ffffff" text-anchor="middle" font-weight="bold" font-family="'Liberation Sans', Arial, sans-serif" >+</text>
<circle cx="500.4" cy="282.4" r="4.3" fill="#f7cf45" stroke="#f4dc90" stroke-width="0.8" />
<text x="500" y="284.3" font-size="5.4" fill="#ffffff" text-anchor="middle" font-weight="bold" font-family="'Liberation Sans', Arial, sans-serif"  stroke="#ffffff" stroke-width="0.2">h</text>
<text x="502.4" y="282.3" font-size="3.4" fill="#ffffff" text-anchor="middle" font-weight="bold" font-family="'Liberation Sans', Arial, sans-serif" >+</text>
<text x="464.7" y="298.7" font-size="6.3" fill="#6f95e2" text-anchor="start" font-weight="bold" font-family="'Liberation Sans', Arial, sans-serif" >N<tspan fill="#cfcfcf" font-weight="normal">H<tspan font-size="4" dy="1.3">3</tspan></tspan></text>
<circle cx="464.9" cy="308.7" r="2.9" fill="url(#wg)" stroke="#b0b0b0" stroke-width="0.6"/>
<circle cx="475.5" cy="308.7" r="2.9" fill="url(#wg)" stroke="#b0b0b0" stroke-width="0.6"/>
<circle cx="469.7" cy="306.7" r="3.5" fill="url(#wg)" stroke="#b0b0b0" stroke-width="0.6"/>
<circle cx="469.3" cy="315.7" r="5.6" fill="url(#nhg)"/>
<circle cx="444.3" cy="313.8" r="3.9" fill="#f7cf45" stroke="#f4dc90" stroke-width="0.8" />
<text x="443.9" y="315.7" font-size="5.4" fill="#ffffff" text-anchor="middle" font-weight="bold" font-family="'Liberation Sans', Arial, sans-serif"  stroke="#ffffff" stroke-width="0.2">h</text>
<text x="446.3" y="313.7" font-size="3.4" fill="#ffffff" text-anchor="middle" font-weight="bold" font-family="'Liberation Sans', Arial, sans-serif" >+</text>
<circle cx="454.8" cy="308.5" r="3.9" fill="#f7cf45" stroke="#f4dc90" stroke-width="0.8" />
<text x="454.4" y="310.4" font-size="5.4" fill="#ffffff" text-anchor="middle" font-weight="bold" font-family="'Liberation Sans', Arial, sans-serif"  stroke="#ffffff" stroke-width="0.2">h</text>
<text x="456.8" y="308.4" font-size="3.4" fill="#ffffff" text-anchor="middle" font-weight="bold" font-family="'Liberation Sans', Arial, sans-serif" >+</text>
<path d="M448.1 319 Q454 315.3 459.5 317.6" stroke="#c9a22c" stroke-width="1.8" fill="none" stroke-linecap="round"/>
<path d="M446.8 321.5 Q448 327 452.8 329.5" stroke="#f2c230" stroke-width="1.8" fill="none" stroke-linecap="round"/>
<path d="M449.5 330.2 L453.4 329.8 L452.6 325.8" stroke="#f2c230" stroke-width="1.4" fill="none" stroke-linecap="round"/>
<circle cx="497.7" cy="324.3" r="4" fill="#a9d88e" stroke="#9ccf84" stroke-width="0.5" />
<text x="497" y="326.1" font-size="5.6" fill="#0c120a" text-anchor="middle" font-weight="bold" font-family="'Liberation Sans', Arial, sans-serif"  stroke="#0c120a" stroke-width="0.25">e</text>
<line x1="499" y1="323.7" x2="500.5" y2="323.7" stroke="#0c120a" stroke-width="0.8" />
<circle cx="494.5" cy="333.5" r="4" fill="#a9d88e" stroke="#9ccf84" stroke-width="0.5" />
<text x="493.8" y="335.3" font-size="5.6" fill="#0c120a" text-anchor="middle" font-weight="bold" font-family="'Liberation Sans', Arial, sans-serif"  stroke="#0c120a" stroke-width="0.25">e</text>
<line x1="495.8" y1="332.9" x2="497.3" y2="332.9" stroke="#0c120a" stroke-width="0.8" />
<path d="M488.2 330.4 Q489.5 322 483 319" stroke="#6ea856" stroke-width="2" fill="none" stroke-linecap="round"/>
<path d="M483.6 315.6 L480 318.6 L484.6 320.8" stroke="#7cb862" stroke-width="1.7" fill="none" stroke-linecap="round"/>
<text x="392.8" y="356.8" font-size="7.5" fill="#86a4ea" text-anchor="start" font-weight="normal" font-family="'Liberation Sans', Arial, sans-serif"  textLength="43.3" lengthAdjust="spacingAndGlyphs">N<tspan font-size="4.8" dy="1.4">2</tspan><tspan dy="-1.4"> condition</tspan></text>
<text x="379.4" y="361" font-size="9.8" fill="#111" text-anchor="start" font-weight="bold" font-family="'Liberation Sans', Arial, sans-serif" font-style="italic" >E</text>
<text x="385.8" y="362.9" font-size="5.8" fill="#111" text-anchor="start" font-weight="bold" font-family="'Liberation Sans', Arial, sans-serif" font-style="italic" >v</text>
<line x1="391.3" y1="360.6" x2="510" y2="360.6" stroke="#333" stroke-width="1.25" stroke-dasharray="2.6 2.1" />
<path d="M412.5 369.9 Q401 369.5 393 364.8" stroke="#f6d37a" stroke-width="0.8" fill="none" />
<path d="M393 367.3 L392.6 364.6 L395.6 364.4" stroke="#f6d37a" stroke-width="0.7" fill="none" />
<text x="413.8" y="370.9" font-size="6.9" fill="#111" text-anchor="start" font-weight="bold" font-family="'Liberation Sans', Arial, sans-serif" >Au</text>
<line x1="425.3" y1="369.3" x2="442" y2="369.3" stroke="#c99a1c" stroke-width="1.9" />
<line x1="493" y1="369.3" x2="509.4" y2="369.3" stroke="#c99a1c" stroke-width="1.9" />
<text x="511.5" y="371.3" font-size="6.9" fill="#111" text-anchor="start" font-weight="bold" font-family="'Liberation Sans', Arial, sans-serif" >Au</text>
<circle cx="467.5" cy="355.8" r="27.7" fill="url(#pg)" stroke="#d9a084" stroke-width="0.8" />
<ellipse cx="467.5" cy="355.8" rx="13" ry="9" fill="url(#og)"/>
<line x1="450.7" y1="339.6" x2="460.44" y2="349" stroke="#4f7fd0" stroke-width="0.9" />
<line x1="485.8" y1="339.6" x2="475.19" y2="349" stroke="#4f7fd0" stroke-width="0.9" />
<line x1="448.7" y1="372.3" x2="459.6" y2="362.73" stroke="#4f7fd0" stroke-width="0.9" />
<line x1="484.2" y1="372.3" x2="474.51" y2="362.73" stroke="#4f7fd0" stroke-width="0.9" />
<line x1="460.44" y1="349" x2="472.54" y2="360.66" stroke="#46c2a2" stroke-width="0.8" />
<line x1="475.19" y1="349" x2="462.01" y2="360.66" stroke="#46c2a2" stroke-width="0.8" />
<line x1="459.6" y1="362.73" x2="473.14" y2="350.85" stroke="#46c2a2" stroke-width="0.8" />
<line x1="474.51" y1="362.73" x2="462.49" y2="350.85" stroke="#46c2a2" stroke-width="0.8" />
<path d="M455.5 351.8 L459.5 360.8 L463.5 351.8 L467.5 360.8 L471.5 351.8 L475.5 360.8 L479.5 351.8" stroke="#46c2a2" stroke-width="0.95" fill="none" />
<path d="M456.5 360.8 L460.5 351.8 L464.5 360.8 L468.5 351.8 L472.5 360.8 L476.5 351.8 L480.5 360.8" stroke="#46c2a2" stroke-width="0.95" fill="none" />
<line x1="466.3" y1="337" x2="453.7" y2="360.6" stroke="#e0449e" stroke-width="0.85" />
<line x1="466.3" y1="337" x2="482.9" y2="360.4" stroke="#e0449e" stroke-width="0.85" />
<line x1="453.7" y1="360.6" x2="482.9" y2="360.4" stroke="#e0449e" stroke-width="0.85" />
<line x1="467.5" y1="374.3" x2="450.7" y2="351" stroke="#e0449e" stroke-width="0.85" />
<line x1="467.5" y1="374.3" x2="480.3" y2="351" stroke="#e0449e" stroke-width="0.85" />
<line x1="450.7" y1="351" x2="480.3" y2="351" stroke="#e0449e" stroke-width="0.85" />
<line x1="466.3" y1="337" x2="469.4" y2="346.4" stroke="#e0449e" stroke-width="0.85" />
<line x1="469.4" y1="346.4" x2="480.3" y2="351" stroke="#e0449e" stroke-width="0.85" />
<line x1="467.5" y1="374.3" x2="464.9" y2="365.2" stroke="#e0449e" stroke-width="0.85" />
<line x1="464.9" y1="365.2" x2="453.7" y2="360.6" stroke="#e0449e" stroke-width="0.85" />
<line x1="450.7" y1="351" x2="453.7" y2="360.6" stroke="#e0449e" stroke-width="0.85" />
<line x1="480.3" y1="351" x2="482.9" y2="360.4" stroke="#e0449e" stroke-width="0.85" />
<line x1="466.3" y1="337" x2="450.7" y2="351" stroke="#e0449e" stroke-width="0.85" />
<line x1="467.5" y1="374.3" x2="482.9" y2="360.4" stroke="#e0449e" stroke-width="0.85" />
<line x1="469.4" y1="346.4" x2="450.7" y2="351" stroke="#e0449e" stroke-width="0.85" />
<line x1="464.9" y1="365.2" x2="482.9" y2="360.4" stroke="#e0449e" stroke-width="0.85" />
<text x="461" y="350.6" font-size="3.4" fill="#2a2a2a" text-anchor="middle" font-weight="bold" font-family="'Liberation Sans', Arial, sans-serif"  stroke="#2a2a2a" stroke-width="0.15">Mo</text>
<text x="473" y="350.6" font-size="3.4" fill="#2a2a2a" text-anchor="middle" font-weight="bold" font-family="'Liberation Sans', Arial, sans-serif"  stroke="#2a2a2a" stroke-width="0.15">Mo</text>
<text x="461.5" y="363.8" font-size="3.4" fill="#2a2a2a" text-anchor="middle" font-weight="bold" font-family="'Liberation Sans', Arial, sans-serif"  stroke="#2a2a2a" stroke-width="0.15">Mo</text>
<text x="473.5" y="363.8" font-size="3.4" fill="#2a2a2a" text-anchor="middle" font-weight="bold" font-family="'Liberation Sans', Arial, sans-serif"  stroke="#2a2a2a" stroke-width="0.15">Mo</text>
<circle cx="466.3" cy="337" r="2.1" fill="#fbe0f0" stroke="#e0449e" stroke-width="1" />
<circle cx="467.5" cy="374.3" r="2.1" fill="#fbe0f0" stroke="#e0449e" stroke-width="1" />
<circle cx="450.7" cy="351" r="2.1" fill="#fbe0f0" stroke="#e0449e" stroke-width="1" />
<circle cx="453.7" cy="360.6" r="2.1" fill="#fbe0f0" stroke="#e0449e" stroke-width="1" />
<circle cx="480.3" cy="351" r="2.1" fill="#fbe0f0" stroke="#e0449e" stroke-width="1" />
<circle cx="482.9" cy="360.4" r="2.1" fill="#fbe0f0" stroke="#e0449e" stroke-width="1" />
<circle cx="469.4" cy="346.4" r="2.1" fill="#fbe0f0" stroke="#e0449e" stroke-width="1" />
<circle cx="464.9" cy="365.2" r="2.1" fill="#fbe0f0" stroke="#e0449e" stroke-width="1" />
<circle cx="450.7" cy="339.6" r="2.1" fill="#e4eefc" stroke="#4470c8" stroke-width="1" />
<circle cx="485.8" cy="339.6" r="2.1" fill="#e4eefc" stroke="#4470c8" stroke-width="1" />
<circle cx="448.7" cy="372.3" r="2.1" fill="#e4eefc" stroke="#4470c8" stroke-width="1" />
<circle cx="484.2" cy="372.3" r="2.1" fill="#e4eefc" stroke="#4470c8" stroke-width="1" />
<circle cx="462.9" cy="344.8" r="2.1" fill="#e4eefc" stroke="#4470c8" stroke-width="1" />
<circle cx="469.7" cy="366.8" r="2.1" fill="#e4eefc" stroke="#4470c8" stroke-width="1" />
<text x="450.6" y="434.6" font-size="12.5" fill="#111" text-anchor="middle" font-weight="bold" font-family="'Liberation Serif', 'Times New Roman', serif" ><tspan font-weight="normal">(</tspan>e<tspan font-weight="normal">)</tspan></text>
</svg></body></html>
